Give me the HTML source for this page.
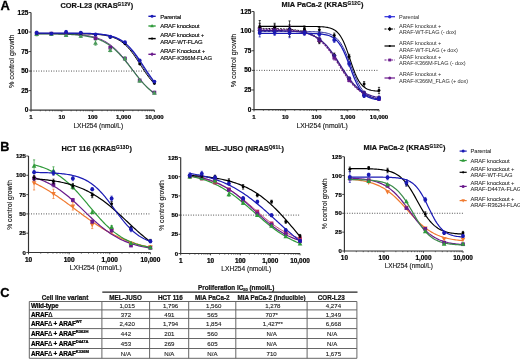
<!DOCTYPE html>
<html><head><meta charset="utf-8"><style>
html,body{margin:0;padding:0;background:#fff;width:520px;height:359px;overflow:hidden}
svg{display:block}
</style></head><body>
<svg width="520" height="359" viewBox="0 0 520 359" font-family='"Liberation Sans", Arial, sans-serif'>
<rect width="520" height="359" fill="#fff"/>
<text x="0.50" y="9.60" font-size="12.9" font-weight="bold" text-anchor="start" fill="#000" stroke="#000" stroke-width="0.3" >A</text>
<text x="0.30" y="151.00" font-size="12.7" font-weight="bold" text-anchor="start" fill="#000" stroke="#000" stroke-width="0.3" >B</text>
<text x="0.30" y="297.00" font-size="12.8" font-weight="bold" text-anchor="start" fill="#000" stroke="#000" stroke-width="0.3" >C</text>
<line x1="31.00" y1="71.06" x2="152.90" y2="71.06" stroke="#111" stroke-width="0.8" stroke-dasharray="0.9 1.6"/>
<polyline points="36.65,33.46 37.95,33.47 39.26,33.47 40.57,33.48 41.88,33.49 43.19,33.49 44.50,33.50 45.81,33.51 47.11,33.52 48.42,33.53 49.73,33.54 51.04,33.56 52.35,33.57 53.66,33.59 54.96,33.61 56.27,33.63 57.58,33.65 58.89,33.67 60.20,33.70 61.51,33.73 62.81,33.77 64.12,33.80 65.43,33.84 66.74,33.89 68.05,33.94 69.36,33.99 70.66,34.06 71.97,34.12 73.28,34.20 74.59,34.28 75.90,34.37 77.21,34.47 78.51,34.58 79.82,34.70 81.13,34.83 82.44,34.98 83.75,35.14 85.06,35.32 86.36,35.51 87.67,35.73 88.98,35.97 90.29,36.23 91.60,36.51 92.91,36.82 94.21,37.16 95.52,37.54 96.83,37.95 98.14,38.39 99.45,38.88 100.76,39.41 102.07,39.98 103.37,40.61 104.68,41.28 105.99,42.01 107.30,42.80 108.61,43.65 109.92,44.56 111.22,45.54 112.53,46.58 113.84,47.69 115.15,48.87 116.46,50.11 117.77,51.42 119.07,52.80 120.38,54.24 121.69,55.75 123.00,57.30 124.31,58.91 125.62,60.56 126.92,62.25 128.23,63.97 129.54,65.71 130.85,67.46 132.16,69.22 133.47,70.97 134.77,72.71 136.08,74.43 137.39,76.12 138.70,77.77 140.01,79.38 141.32,80.94 142.62,82.44 143.93,83.88 145.24,85.26 146.55,86.57 147.86,87.82 149.17,89.00 150.47,90.11 151.78,91.15 153.09,92.13 154.40,93.04" fill="none" stroke="#6a1a8c" stroke-width="1.0"/>
<polyline points="36.65,33.78 37.95,33.79 39.26,33.80 40.57,33.80 41.88,33.81 43.19,33.82 44.50,33.83 45.81,33.84 47.11,33.86 48.42,33.87 49.73,33.89 51.04,33.90 52.35,33.92 53.66,33.94 54.96,33.97 56.27,33.99 57.58,34.02 58.89,34.05 60.20,34.08 61.51,34.12 62.81,34.16 64.12,34.20 65.43,34.25 66.74,34.30 68.05,34.36 69.36,34.43 70.66,34.50 71.97,34.58 73.28,34.66 74.59,34.75 75.90,34.86 77.21,34.97 78.51,35.09 79.82,35.23 81.13,35.38 82.44,35.54 83.75,35.72 85.06,35.92 86.36,36.13 87.67,36.36 88.98,36.62 90.29,36.90 91.60,37.20 92.91,37.54 94.21,37.90 95.52,38.29 96.83,38.72 98.14,39.19 99.45,39.69 100.76,40.24 102.07,40.83 103.37,41.47 104.68,42.16 105.99,42.91 107.30,43.70 108.61,44.56 109.92,45.47 111.22,46.44 112.53,47.48 113.84,48.58 115.15,49.74 116.46,50.96 117.77,52.25 119.07,53.60 120.38,55.01 121.69,56.47 123.00,57.98 124.31,59.54 125.62,61.14 126.92,62.78 128.23,64.45 129.54,66.14 130.85,67.84 132.16,69.55 133.47,71.26 134.77,72.96 136.08,74.65 137.39,76.31 138.70,77.94 140.01,79.53 141.32,81.08 142.62,82.58 143.93,84.03 145.24,85.43 146.55,86.76 147.86,88.03 149.17,89.24 150.47,90.39 151.78,91.47 153.09,92.49 154.40,93.45" fill="none" stroke="#3d7a52" stroke-width="1.2"/>
<polyline points="36.65,33.64 37.95,33.64 39.26,33.64 40.57,33.64 41.88,33.64 43.19,33.64 44.50,33.64 45.81,33.64 47.11,33.64 48.42,33.64 49.73,33.64 51.04,33.65 52.35,33.65 53.66,33.65 54.96,33.65 56.27,33.65 57.58,33.65 58.89,33.66 60.20,33.66 61.51,33.66 62.81,33.66 64.12,33.67 65.43,33.67 66.74,33.68 68.05,33.68 69.36,33.69 70.66,33.69 71.97,33.70 73.28,33.71 74.59,33.72 75.90,33.73 77.21,33.75 78.51,33.76 79.82,33.78 81.13,33.80 82.44,33.82 83.75,33.85 85.06,33.88 86.36,33.91 87.67,33.95 88.98,33.99 90.29,34.04 91.60,34.10 92.91,34.16 94.21,34.23 95.52,34.32 96.83,34.41 98.14,34.52 99.45,34.64 100.76,34.78 102.07,34.94 103.37,35.11 104.68,35.32 105.99,35.55 107.30,35.80 108.61,36.10 109.92,36.43 111.22,36.80 112.53,37.22 113.84,37.69 115.15,38.22 116.46,38.81 117.77,39.46 119.07,40.20 120.38,41.01 121.69,41.91 123.00,42.90 124.31,43.98 125.62,45.17 126.92,46.45 128.23,47.85 129.54,49.34 130.85,50.93 132.16,52.62 133.47,54.40 134.77,56.25 136.08,58.18 137.39,60.16 138.70,62.17 140.01,64.21 141.32,66.25 142.62,68.28 143.93,70.28 145.24,72.24 146.55,74.13 147.86,75.95 149.17,77.68 150.47,79.32 151.78,80.86 153.09,82.31 154.40,83.64" fill="none" stroke="#000" stroke-width="1.0"/>
<polyline points="36.65,33.35 37.95,33.35 39.26,33.35 40.57,33.35 41.88,33.35 43.19,33.35 44.50,33.35 45.81,33.35 47.11,33.35 48.42,33.35 49.73,33.36 51.04,33.36 52.35,33.36 53.66,33.36 54.96,33.36 56.27,33.36 57.58,33.37 58.89,33.37 60.20,33.37 61.51,33.37 62.81,33.38 64.12,33.38 65.43,33.39 66.74,33.39 68.05,33.40 69.36,33.40 70.66,33.41 71.97,33.42 73.28,33.43 74.59,33.44 75.90,33.45 77.21,33.47 78.51,33.48 79.82,33.50 81.13,33.52 82.44,33.54 83.75,33.57 85.06,33.60 86.36,33.64 87.67,33.67 88.98,33.72 90.29,33.77 91.60,33.82 92.91,33.89 94.21,33.96 95.52,34.04 96.83,34.14 98.14,34.24 99.45,34.36 100.76,34.49 102.07,34.65 103.37,34.82 104.68,35.01 105.99,35.23 107.30,35.48 108.61,35.76 109.92,36.07 111.22,36.42 112.53,36.81 113.84,37.25 115.15,37.74 116.46,38.29 117.77,38.91 119.07,39.58 120.38,40.34 121.69,41.17 123.00,42.08 124.31,43.09 125.62,44.18 126.92,45.37 128.23,46.66 129.54,48.05 130.85,49.54 132.16,51.13 133.47,52.81 134.77,54.57 136.08,56.41 137.39,58.32 138.70,60.28 140.01,62.29 141.32,64.32 142.62,66.36 143.93,68.39 145.24,70.40 146.55,72.37 147.86,74.28 149.17,76.14 150.47,77.91 151.78,79.60 153.09,81.20 154.40,82.70" fill="none" stroke="#2a2a9a" stroke-width="1.0"/>
<polyline points="36.65,32.99 37.95,32.99 39.26,32.99 40.57,32.99 41.88,32.99 43.19,32.99 44.50,32.99 45.81,32.99 47.11,32.99 48.42,32.99 49.73,32.99 51.04,32.99 52.35,33.00 53.66,33.00 54.96,33.00 56.27,33.00 57.58,33.00 58.89,33.01 60.20,33.01 61.51,33.01 62.81,33.02 64.12,33.02 65.43,33.03 66.74,33.03 68.05,33.04 69.36,33.05 70.66,33.06 71.97,33.07 73.28,33.08 74.59,33.09 75.90,33.10 77.21,33.12 78.51,33.14 79.82,33.16 81.13,33.18 82.44,33.20 83.75,33.23 85.06,33.26 86.36,33.30 87.67,33.34 88.98,33.39 90.29,33.44 91.60,33.50 92.91,33.57 94.21,33.64 95.52,33.73 96.83,33.82 98.14,33.93 99.45,34.05 100.76,34.19 102.07,34.34 103.37,34.51 104.68,34.70 105.99,34.92 107.30,35.16 108.61,35.44 109.92,35.74 111.22,36.08 112.53,36.47 113.84,36.89 115.15,37.37 116.46,37.89 117.77,38.48 119.07,39.12 120.38,39.84 121.69,40.63 123.00,41.49 124.31,42.44 125.62,43.47 126.92,44.60 128.23,45.81 129.54,47.12 130.85,48.53 132.16,50.03 133.47,51.62 134.77,53.30 136.08,55.06 137.39,56.90 138.70,58.79 140.01,60.74 141.32,62.73 142.62,64.74 143.93,66.77 145.24,68.79 146.55,70.79 147.86,72.75 149.17,74.67 150.47,76.53 151.78,78.32 153.09,80.04 154.40,81.66" fill="none" stroke="#1a1ab4" stroke-width="1.2"/>
<rect x="34.79" y="31.73" width="3.70" height="3.70" fill="#6a1a8c"/>
<rect x="49.51" y="31.73" width="3.70" height="3.70" fill="#6a1a8c"/>
<rect x="64.23" y="31.73" width="3.70" height="3.70" fill="#6a1a8c"/>
<rect x="78.95" y="32.12" width="3.70" height="3.70" fill="#6a1a8c"/>
<rect x="93.67" y="36.41" width="3.70" height="3.70" fill="#6a1a8c"/>
<rect x="108.39" y="45.78" width="3.70" height="3.70" fill="#6a1a8c"/>
<rect x="123.11" y="56.71" width="3.70" height="3.70" fill="#6a1a8c"/>
<rect x="137.83" y="78.58" width="3.70" height="3.70" fill="#6a1a8c"/>
<rect x="152.55" y="90.68" width="3.70" height="3.70" fill="#6a1a8c"/>
<path d="M36.65,32.80V35.92M35.55,32.80h2.2M35.55,35.92h2.2" stroke="#4a9a5a" stroke-width="0.7" fill="none"/>
<polygon points="36.65,31.83 34.31,36.12 38.99,36.12" fill="#4a9a5a"/>
<path d="M51.37,33.58V35.14M50.27,33.58h2.2M50.27,35.14h2.2" stroke="#4a9a5a" stroke-width="0.7" fill="none"/>
<polygon points="51.37,31.83 49.03,36.12 53.71,36.12" fill="#4a9a5a"/>
<path d="M66.08,34.36V35.92M64.98,34.36h2.2M64.98,35.92h2.2" stroke="#4a9a5a" stroke-width="0.7" fill="none"/>
<polygon points="66.08,32.61 63.74,36.90 68.42,36.90" fill="#4a9a5a"/>
<path d="M80.80,34.36V37.49M79.70,34.36h2.2M79.70,37.49h2.2" stroke="#4a9a5a" stroke-width="0.7" fill="none"/>
<polygon points="80.80,33.39 78.46,37.68 83.14,37.68" fill="#4a9a5a"/>
<path d="M95.52,40.61V45.29M94.42,40.61h2.2M94.42,45.29h2.2" stroke="#4a9a5a" stroke-width="0.7" fill="none"/>
<polygon points="95.52,40.42 93.18,44.71 97.86,44.71" fill="#4a9a5a"/>
<path d="M110.24,48.65V51.77M109.14,48.65h2.2M109.14,51.77h2.2" stroke="#4a9a5a" stroke-width="0.7" fill="none"/>
<polygon points="110.24,47.68 107.90,51.97 112.58,51.97" fill="#4a9a5a"/>
<path d="M124.96,57.01V60.13M123.86,57.01h2.2M123.86,60.13h2.2" stroke="#4a9a5a" stroke-width="0.7" fill="none"/>
<polygon points="124.96,56.03 122.62,60.32 127.30,60.32" fill="#4a9a5a"/>
<path d="M139.68,79.10V82.23M138.58,79.10h2.2M138.58,82.23h2.2" stroke="#4a9a5a" stroke-width="0.7" fill="none"/>
<polygon points="139.68,78.13 137.34,82.42 142.02,82.42" fill="#4a9a5a"/>
<path d="M154.40,92.14V93.70M153.30,92.14h2.2M153.30,93.70h2.2" stroke="#4a9a5a" stroke-width="0.7" fill="none"/>
<polygon points="154.40,90.39 152.06,94.68 156.74,94.68" fill="#4a9a5a"/>
<circle cx="36.65" cy="33.58" r="1.46" fill="#000"/>
<circle cx="51.37" cy="33.58" r="1.46" fill="#000"/>
<circle cx="66.08" cy="32.80" r="1.46" fill="#000"/>
<circle cx="80.80" cy="33.58" r="1.46" fill="#000"/>
<circle cx="95.52" cy="35.14" r="1.46" fill="#000"/>
<circle cx="110.24" cy="37.49" r="1.46" fill="#000"/>
<circle cx="124.96" cy="43.73" r="1.46" fill="#000"/>
<circle cx="139.68" cy="64.03" r="1.46" fill="#000"/>
<circle cx="154.40" cy="83.55" r="1.46" fill="#000"/>
<path d="M36.65,31.24V34.36M35.55,31.24h2.2M35.55,34.36h2.2" stroke="#1a1ab4" stroke-width="0.7" fill="none"/>
<circle cx="36.65" cy="32.80" r="1.95" fill="#1a1ab4"/>
<path d="M51.37,32.80V34.36M50.27,32.80h2.2M50.27,34.36h2.2" stroke="#1a1ab4" stroke-width="0.7" fill="none"/>
<circle cx="51.37" cy="33.58" r="1.95" fill="#1a1ab4"/>
<path d="M66.08,30.46V33.58M64.98,30.46h2.2M64.98,33.58h2.2" stroke="#1a1ab4" stroke-width="0.7" fill="none"/>
<circle cx="66.08" cy="32.02" r="1.95" fill="#1a1ab4"/>
<path d="M80.80,32.02V33.58M79.70,32.02h2.2M79.70,33.58h2.2" stroke="#1a1ab4" stroke-width="0.7" fill="none"/>
<circle cx="80.80" cy="32.80" r="1.95" fill="#1a1ab4"/>
<path d="M95.52,33.58V35.14M94.42,33.58h2.2M94.42,35.14h2.2" stroke="#1a1ab4" stroke-width="0.7" fill="none"/>
<circle cx="95.52" cy="34.36" r="1.95" fill="#1a1ab4"/>
<path d="M110.24,35.92V37.49M109.14,35.92h2.2M109.14,37.49h2.2" stroke="#1a1ab4" stroke-width="0.7" fill="none"/>
<circle cx="110.24" cy="36.70" r="1.95" fill="#1a1ab4"/>
<path d="M124.96,41.39V42.95M123.86,41.39h2.2M123.86,42.95h2.2" stroke="#1a1ab4" stroke-width="0.7" fill="none"/>
<circle cx="124.96" cy="42.17" r="1.95" fill="#1a1ab4"/>
<path d="M139.68,59.74V61.30M138.58,59.74h2.2M138.58,61.30h2.2" stroke="#1a1ab4" stroke-width="0.7" fill="none"/>
<circle cx="139.68" cy="60.52" r="1.95" fill="#1a1ab4"/>
<path d="M154.40,80.82V82.38M153.30,80.82h2.2M153.30,82.38h2.2" stroke="#1a1ab4" stroke-width="0.7" fill="none"/>
<circle cx="154.40" cy="81.60" r="1.95" fill="#1a1ab4"/>
<path d="M31.00,12.50V110.10H154.40" stroke="#333" stroke-width="1.15" fill="none"/>
<line x1="28.80" y1="110.10" x2="31.00" y2="110.10" stroke="#333" stroke-width="0.9"/>
<text x="28.40" y="112.20" font-size="6.5" font-weight="bold" text-anchor="end" fill="#000" stroke="#000" stroke-width="0.22" >0</text>
<line x1="28.80" y1="90.58" x2="31.00" y2="90.58" stroke="#333" stroke-width="0.9"/>
<text x="28.40" y="92.68" font-size="6.5" font-weight="bold" text-anchor="end" fill="#000" stroke="#000" stroke-width="0.22" >25</text>
<line x1="28.80" y1="71.06" x2="31.00" y2="71.06" stroke="#333" stroke-width="0.9"/>
<text x="28.40" y="73.16" font-size="6.5" font-weight="bold" text-anchor="end" fill="#000" stroke="#000" stroke-width="0.22" >50</text>
<line x1="28.80" y1="51.54" x2="31.00" y2="51.54" stroke="#333" stroke-width="0.9"/>
<text x="28.40" y="53.64" font-size="6.5" font-weight="bold" text-anchor="end" fill="#000" stroke="#000" stroke-width="0.22" >75</text>
<line x1="28.80" y1="32.02" x2="31.00" y2="32.02" stroke="#333" stroke-width="0.9"/>
<text x="28.40" y="34.12" font-size="6.5" font-weight="bold" text-anchor="end" fill="#000" stroke="#000" stroke-width="0.22" >100</text>
<line x1="28.80" y1="12.50" x2="31.00" y2="12.50" stroke="#333" stroke-width="0.9"/>
<text x="28.40" y="14.60" font-size="6.5" font-weight="bold" text-anchor="end" fill="#000" stroke="#000" stroke-width="0.22" >125</text>
<line x1="31.00" y1="110.10" x2="31.00" y2="111.90" stroke="#333" stroke-width="0.9"/>
<text x="31.00" y="119.00" font-size="6.0" font-weight="bold" text-anchor="middle" fill="#000" stroke="#000" stroke-width="0.22" >1</text>
<line x1="40.29" y1="110.10" x2="40.29" y2="111.30" stroke="#333" stroke-width="0.7"/>
<line x1="45.72" y1="110.10" x2="45.72" y2="111.30" stroke="#333" stroke-width="0.7"/>
<line x1="49.57" y1="110.10" x2="49.57" y2="111.30" stroke="#333" stroke-width="0.7"/>
<line x1="52.56" y1="110.10" x2="52.56" y2="111.30" stroke="#333" stroke-width="0.7"/>
<line x1="55.01" y1="110.10" x2="55.01" y2="111.30" stroke="#333" stroke-width="0.7"/>
<line x1="57.07" y1="110.10" x2="57.07" y2="111.30" stroke="#333" stroke-width="0.7"/>
<line x1="58.86" y1="110.10" x2="58.86" y2="111.30" stroke="#333" stroke-width="0.7"/>
<line x1="60.44" y1="110.10" x2="60.44" y2="111.30" stroke="#333" stroke-width="0.7"/>
<line x1="61.85" y1="110.10" x2="61.85" y2="111.90" stroke="#333" stroke-width="0.9"/>
<text x="61.85" y="119.00" font-size="6.0" font-weight="bold" text-anchor="middle" fill="#000" stroke="#000" stroke-width="0.22" >10</text>
<line x1="71.14" y1="110.10" x2="71.14" y2="111.30" stroke="#333" stroke-width="0.7"/>
<line x1="76.57" y1="110.10" x2="76.57" y2="111.30" stroke="#333" stroke-width="0.7"/>
<line x1="80.42" y1="110.10" x2="80.42" y2="111.30" stroke="#333" stroke-width="0.7"/>
<line x1="83.41" y1="110.10" x2="83.41" y2="111.30" stroke="#333" stroke-width="0.7"/>
<line x1="85.86" y1="110.10" x2="85.86" y2="111.30" stroke="#333" stroke-width="0.7"/>
<line x1="87.92" y1="110.10" x2="87.92" y2="111.30" stroke="#333" stroke-width="0.7"/>
<line x1="89.71" y1="110.10" x2="89.71" y2="111.30" stroke="#333" stroke-width="0.7"/>
<line x1="91.29" y1="110.10" x2="91.29" y2="111.30" stroke="#333" stroke-width="0.7"/>
<line x1="92.70" y1="110.10" x2="92.70" y2="111.90" stroke="#333" stroke-width="0.9"/>
<text x="92.70" y="119.00" font-size="6.0" font-weight="bold" text-anchor="middle" fill="#000" stroke="#000" stroke-width="0.22" >100</text>
<line x1="101.99" y1="110.10" x2="101.99" y2="111.30" stroke="#333" stroke-width="0.7"/>
<line x1="107.42" y1="110.10" x2="107.42" y2="111.30" stroke="#333" stroke-width="0.7"/>
<line x1="111.27" y1="110.10" x2="111.27" y2="111.30" stroke="#333" stroke-width="0.7"/>
<line x1="114.26" y1="110.10" x2="114.26" y2="111.30" stroke="#333" stroke-width="0.7"/>
<line x1="116.71" y1="110.10" x2="116.71" y2="111.30" stroke="#333" stroke-width="0.7"/>
<line x1="118.77" y1="110.10" x2="118.77" y2="111.30" stroke="#333" stroke-width="0.7"/>
<line x1="120.56" y1="110.10" x2="120.56" y2="111.30" stroke="#333" stroke-width="0.7"/>
<line x1="122.14" y1="110.10" x2="122.14" y2="111.30" stroke="#333" stroke-width="0.7"/>
<line x1="123.55" y1="110.10" x2="123.55" y2="111.90" stroke="#333" stroke-width="0.9"/>
<text x="123.55" y="119.00" font-size="6.0" font-weight="bold" text-anchor="middle" fill="#000" stroke="#000" stroke-width="0.22" >1,000</text>
<line x1="132.84" y1="110.10" x2="132.84" y2="111.30" stroke="#333" stroke-width="0.7"/>
<line x1="138.27" y1="110.10" x2="138.27" y2="111.30" stroke="#333" stroke-width="0.7"/>
<line x1="142.12" y1="110.10" x2="142.12" y2="111.30" stroke="#333" stroke-width="0.7"/>
<line x1="145.11" y1="110.10" x2="145.11" y2="111.30" stroke="#333" stroke-width="0.7"/>
<line x1="147.56" y1="110.10" x2="147.56" y2="111.30" stroke="#333" stroke-width="0.7"/>
<line x1="149.62" y1="110.10" x2="149.62" y2="111.30" stroke="#333" stroke-width="0.7"/>
<line x1="151.41" y1="110.10" x2="151.41" y2="111.30" stroke="#333" stroke-width="0.7"/>
<line x1="152.99" y1="110.10" x2="152.99" y2="111.30" stroke="#333" stroke-width="0.7"/>
<line x1="154.40" y1="110.10" x2="154.40" y2="111.90" stroke="#333" stroke-width="0.9"/>
<text x="154.40" y="119.00" font-size="6.0" font-weight="bold" text-anchor="middle" fill="#000" stroke="#000" stroke-width="0.22" >10,000</text>
<text x="98.30" y="127.60" font-size="6.6" text-anchor="middle" fill="#111" stroke="#111" stroke-width="0.12" >LXH254 (nmol/L)</text>
<text transform="translate(13.60,61.30) rotate(-90)" font-size="7.2" text-anchor="middle" fill="#111" stroke="#111" stroke-width="0.12">% control growth</text>
<text x="60.50" y="8.30" font-size="7.4" font-weight="bold" fill="#111" stroke="#111" stroke-width="0.2">COR-L23 (KRAS<tspan font-size="4.7" dy="-1.9" letter-spacing="0.3">G12V</tspan><tspan dy="1.9">)</tspan></text>
<line x1="254.00" y1="70.36" x2="379.00" y2="70.36" stroke="#111" stroke-width="0.8" stroke-dasharray="0.9 1.6"/>
<polyline points="259.72,28.42 261.05,28.43 262.37,28.44 263.70,28.45 265.02,28.46 266.35,28.48 267.67,28.49 269.00,28.51 270.32,28.53 271.65,28.55 272.97,28.58 274.30,28.61 275.62,28.64 276.95,28.68 278.27,28.72 279.60,28.76 280.93,28.81 282.25,28.87 283.58,28.93 284.90,29.00 286.23,29.08 287.55,29.17 288.88,29.26 290.20,29.37 291.53,29.50 292.85,29.63 294.18,29.79 295.50,29.96 296.83,30.15 298.15,30.36 299.48,30.59 300.81,30.86 302.13,31.15 303.46,31.47 304.78,31.83 306.11,32.23 307.43,32.68 308.76,33.16 310.08,33.70 311.41,34.30 312.73,34.95 314.06,35.67 315.38,36.46 316.71,37.32 318.03,38.26 319.36,39.28 320.69,40.38 322.01,41.57 323.34,42.86 324.66,44.23 325.99,45.69 327.31,47.25 328.64,48.89 329.96,50.62 331.29,52.43 332.61,54.31 333.94,56.25 335.26,58.25 336.59,60.29 337.91,62.36 339.24,64.44 340.57,66.53 341.89,68.61 343.22,70.67 344.54,72.69 345.87,74.66 347.19,76.58 348.52,78.42 349.84,80.20 351.17,81.89 352.49,83.49 353.82,85.00 355.14,86.42 356.47,87.76 357.79,89.00 359.12,90.15 360.45,91.21 361.77,92.19 363.10,93.09 364.42,93.92 365.75,94.67 367.07,95.36 368.40,95.99 369.72,96.56 371.05,97.07 372.37,97.54 373.70,97.96 375.02,98.34 376.35,98.68 377.67,98.99 379.00,99.27" fill="none" stroke="#000" stroke-width="1.0" stroke-dasharray="1.8 1.1"/>
<polyline points="259.72,29.22 261.05,29.23 262.37,29.24 263.70,29.25 265.02,29.26 266.35,29.27 267.67,29.29 269.00,29.30 270.32,29.32 271.65,29.34 272.97,29.37 274.30,29.39 275.62,29.42 276.95,29.45 278.27,29.49 279.60,29.53 280.93,29.58 282.25,29.63 283.58,29.69 284.90,29.75 286.23,29.83 287.55,29.91 288.88,30.00 290.20,30.11 291.53,30.22 292.85,30.35 294.18,30.50 295.50,30.66 296.83,30.84 298.15,31.05 299.48,31.27 300.81,31.53 302.13,31.81 303.46,32.13 304.78,32.48 306.11,32.87 307.43,33.31 308.76,33.79 310.08,34.33 311.41,34.92 312.73,35.57 314.06,36.29 315.38,37.08 316.71,37.94 318.03,38.88 319.36,39.91 320.69,41.03 322.01,42.23 323.34,43.53 324.66,44.93 325.99,46.42 327.31,48.00 328.64,49.68 329.96,51.43 331.29,53.27 332.61,55.19 333.94,57.16 335.26,59.19 336.59,61.25 337.91,63.34 339.24,65.44 340.57,67.54 341.89,69.63 343.22,71.68 344.54,73.69 345.87,75.64 347.19,77.53 348.52,79.34 349.84,81.07 351.17,82.71 352.49,84.26 353.82,85.71 355.14,87.07 356.47,88.34 357.79,89.51 359.12,90.60 360.45,91.59 361.77,92.51 363.10,93.34 364.42,94.11 365.75,94.80 367.07,95.43 368.40,96.00 369.72,96.51 371.05,96.98 372.37,97.40 373.70,97.78 375.02,98.11 376.35,98.42 377.67,98.69 379.00,98.94" fill="none" stroke="#6a1a8c" stroke-width="1.2" stroke-dasharray="2 1"/>
<polyline points="259.72,26.41 261.05,26.41 262.37,26.41 263.70,26.41 265.02,26.41 266.35,26.41 267.67,26.41 269.00,26.41 270.32,26.41 271.65,26.41 272.97,26.41 274.30,26.41 275.62,26.41 276.95,26.41 278.27,26.41 279.60,26.41 280.93,26.41 282.25,26.41 283.58,26.41 284.90,26.41 286.23,26.41 287.55,26.41 288.88,26.41 290.20,26.41 291.53,26.41 292.85,26.41 294.18,26.41 295.50,26.41 296.83,26.41 298.15,26.42 299.48,26.42 300.81,26.42 302.13,26.42 303.46,26.42 304.78,26.43 306.11,26.43 307.43,26.44 308.76,26.44 310.08,26.45 311.41,26.47 312.73,26.48 314.06,26.50 315.38,26.52 316.71,26.55 318.03,26.59 319.36,26.64 320.69,26.71 322.01,26.79 323.34,26.89 324.66,27.02 325.99,27.19 327.31,27.40 328.64,27.67 329.96,28.01 331.29,28.44 332.61,28.98 333.94,29.66 335.26,30.50 336.59,31.54 337.91,32.82 339.24,34.38 340.57,36.25 341.89,38.47 343.22,41.05 344.54,44.01 345.87,47.31 347.19,50.92 348.52,54.74 349.84,58.70 351.17,62.66 352.49,66.51 353.82,70.15 355.14,73.50 356.47,76.51 357.79,79.15 359.12,81.42 360.45,83.33 361.77,84.93 363.10,86.25 364.42,87.32 365.75,88.19 367.07,88.89 368.40,89.45 369.72,89.89 371.05,90.24 372.37,90.52 373.70,90.74 375.02,90.91 376.35,91.05 377.67,91.16 379.00,91.24" fill="none" stroke="#000" stroke-width="1.1"/>
<polyline points="259.72,31.51 261.05,31.51 262.37,31.51 263.70,31.51 265.02,31.51 266.35,31.51 267.67,31.51 269.00,31.51 270.32,31.51 271.65,31.51 272.97,31.51 274.30,31.51 275.62,31.51 276.95,31.51 278.27,31.51 279.60,31.51 280.93,31.51 282.25,31.51 283.58,31.51 284.90,31.51 286.23,31.52 287.55,31.52 288.88,31.52 290.20,31.52 291.53,31.52 292.85,31.52 294.18,31.52 295.50,31.53 296.83,31.53 298.15,31.53 299.48,31.54 300.81,31.54 302.13,31.55 303.46,31.56 304.78,31.57 306.11,31.58 307.43,31.59 308.76,31.61 310.08,31.64 311.41,31.66 312.73,31.70 314.06,31.74 315.38,31.79 316.71,31.86 318.03,31.93 319.36,32.03 320.69,32.15 322.01,32.29 323.34,32.46 324.66,32.67 325.99,32.93 327.31,33.25 328.64,33.63 329.96,34.10 331.29,34.66 332.61,35.33 333.94,36.14 335.26,37.11 336.59,38.26 337.91,39.61 339.24,41.19 340.57,43.03 341.89,45.13 343.22,47.50 344.54,50.14 345.87,53.05 347.19,56.18 348.52,59.49 349.84,62.93 351.17,66.42 352.49,69.90 353.82,73.29 355.14,76.53 356.47,79.57 357.79,82.36 359.12,84.89 360.45,87.14 361.77,89.12 363.10,90.84 364.42,92.32 365.75,93.57 367.07,94.64 368.40,95.54 369.72,96.28 371.05,96.91 372.37,97.42 373.70,97.85 375.02,98.20 376.35,98.49 377.67,98.73 379.00,98.92" fill="none" stroke="#2a2a9a" stroke-width="1.0"/>
<polyline points="259.72,30.38 261.05,30.38 262.37,30.39 263.70,30.39 265.02,30.40 266.35,30.41 267.67,30.42 269.00,30.43 270.32,30.45 271.65,30.46 272.97,30.48 274.30,30.49 275.62,30.51 276.95,30.54 278.27,30.56 279.60,30.59 280.93,30.63 282.25,30.66 283.58,30.71 284.90,30.75 286.23,30.81 287.55,30.87 288.88,30.94 290.20,31.02 291.53,31.10 292.85,31.20 294.18,31.31 295.50,31.44 296.83,31.58 298.15,31.74 299.48,31.91 300.81,32.11 302.13,32.34 303.46,32.59 304.78,32.87 306.11,33.19 307.43,33.54 308.76,33.94 310.08,34.38 311.41,34.87 312.73,35.41 314.06,36.01 315.38,36.68 316.71,37.42 318.03,38.24 319.36,39.13 320.69,40.12 322.01,41.19 323.34,42.35 324.66,43.61 325.99,44.97 327.31,46.42 328.64,47.98 329.96,49.63 331.29,51.37 332.61,53.20 333.94,55.10 335.26,57.07 336.59,59.10 337.91,61.17 339.24,63.26 340.57,65.37 341.89,67.47 343.22,69.55 344.54,71.60 345.87,73.60 347.19,75.54 348.52,77.41 349.84,79.20 351.17,80.90 352.49,82.51 353.82,84.01 355.14,85.42 356.47,86.74 357.79,87.95 359.12,89.07 360.45,90.10 361.77,91.03 363.10,91.89 364.42,92.67 365.75,93.38 367.07,94.01 368.40,94.59 369.72,95.11 371.05,95.57 372.37,95.99 373.70,96.37 375.02,96.70 376.35,97.00 377.67,97.27 379.00,97.50" fill="none" stroke="#3a1a8a" stroke-width="1.1"/>
<polyline points="259.72,33.38 261.05,33.38 262.37,33.38 263.70,33.38 265.02,33.38 266.35,33.38 267.67,33.38 269.00,33.38 270.32,33.38 271.65,33.38 272.97,33.38 274.30,33.38 275.62,33.38 276.95,33.38 278.27,33.38 279.60,33.38 280.93,33.38 282.25,33.38 283.58,33.38 284.90,33.38 286.23,33.38 287.55,33.38 288.88,33.38 290.20,33.38 291.53,33.39 292.85,33.39 294.18,33.39 295.50,33.39 296.83,33.39 298.15,33.40 299.48,33.40 300.81,33.40 302.13,33.41 303.46,33.42 304.78,33.43 306.11,33.44 307.43,33.45 308.76,33.47 310.08,33.49 311.41,33.52 312.73,33.55 314.06,33.59 315.38,33.64 316.71,33.70 318.03,33.78 319.36,33.87 320.69,33.99 322.01,34.13 323.34,34.30 324.66,34.52 325.99,34.78 327.31,35.11 328.64,35.50 329.96,35.99 331.29,36.57 332.61,37.29 333.94,38.15 335.26,39.18 336.59,40.41 337.91,41.86 339.24,43.56 340.57,45.53 341.89,47.79 343.22,50.34 344.54,53.17 345.87,56.26 347.19,59.56 348.52,63.02 349.84,66.57 351.17,70.12 352.49,73.60 353.82,76.94 355.14,80.07 356.47,82.95 357.79,85.55 359.12,87.87 360.45,89.90 361.77,91.65 363.10,93.15 364.42,94.42 365.75,95.48 367.07,96.37 368.40,97.11 369.72,97.72 371.05,98.22 372.37,98.63 373.70,98.97 375.02,99.25 376.35,99.47 377.67,99.65 379.00,99.80" fill="none" stroke="#1a1ab4" stroke-width="1.3"/>
<path d="M259.72,23.27V32.69M258.62,23.27h2.2M258.62,32.69h2.2" stroke="#000" stroke-width="0.7" fill="none"/>
<polygon points="259.72,25.45 257.57,27.98 259.72,30.52 261.86,27.98" fill="#000"/>
<path d="M274.63,24.84V32.69M273.53,24.84h2.2M273.53,32.69h2.2" stroke="#000" stroke-width="0.7" fill="none"/>
<polygon points="274.63,26.23 272.48,28.77 274.63,31.30 276.77,28.77" fill="#000"/>
<path d="M289.54,24.84V34.26M288.44,24.84h2.2M288.44,34.26h2.2" stroke="#000" stroke-width="0.7" fill="none"/>
<polygon points="289.54,27.02 287.39,29.55 289.54,32.09 291.68,29.55" fill="#000"/>
<path d="M304.45,27.59V33.87M303.35,27.59h2.2M303.35,33.87h2.2" stroke="#000" stroke-width="0.7" fill="none"/>
<polygon points="304.45,28.19 302.30,30.73 304.45,33.26 306.59,30.73" fill="#000"/>
<path d="M319.36,38.97V43.68M318.26,38.97h2.2M318.26,43.68h2.2" stroke="#000" stroke-width="0.7" fill="none"/>
<polygon points="319.36,38.79 317.21,41.32 319.36,43.86 321.50,41.32" fill="#000"/>
<path d="M334.27,53.09V57.80M333.17,53.09h2.2M333.17,57.80h2.2" stroke="#000" stroke-width="0.7" fill="none"/>
<polygon points="334.27,52.91 332.12,55.45 334.27,57.98 336.41,55.45" fill="#000"/>
<path d="M349.18,77.66V80.80M348.08,77.66h2.2M348.08,80.80h2.2" stroke="#000" stroke-width="0.7" fill="none"/>
<polygon points="349.18,76.69 347.03,79.23 349.18,81.76 351.32,79.23" fill="#000"/>
<path d="M364.09,93.75V96.89M362.99,93.75h2.2M362.99,96.89h2.2" stroke="#000" stroke-width="0.7" fill="none"/>
<polygon points="364.09,92.78 361.94,95.32 364.09,97.85 366.23,95.32" fill="#000"/>
<path d="M379.00,96.57V99.71M377.90,96.57h2.2M377.90,99.71h2.2" stroke="#000" stroke-width="0.7" fill="none"/>
<polygon points="379.00,95.61 376.86,98.14 379.00,100.68 381.14,98.14" fill="#000"/>
<path d="M259.72,25.30V33.15M258.62,25.30h2.2M258.62,33.15h2.2" stroke="#6a1a8c" stroke-width="0.7" fill="none"/>
<rect x="257.87" y="27.37" width="3.70" height="3.70" fill="#6a1a8c"/>
<path d="M274.63,26.26V32.54M273.53,26.26h2.2M273.53,32.54h2.2" stroke="#6a1a8c" stroke-width="0.7" fill="none"/>
<rect x="272.78" y="27.55" width="3.70" height="3.70" fill="#6a1a8c"/>
<path d="M289.54,26.13V33.98M288.44,26.13h2.2M288.44,33.98h2.2" stroke="#6a1a8c" stroke-width="0.7" fill="none"/>
<rect x="287.69" y="28.20" width="3.70" height="3.70" fill="#6a1a8c"/>
<path d="M304.45,30.04V34.74M303.35,30.04h2.2M303.35,34.74h2.2" stroke="#6a1a8c" stroke-width="0.7" fill="none"/>
<rect x="302.60" y="30.54" width="3.70" height="3.70" fill="#6a1a8c"/>
<path d="M319.36,37.56V42.27M318.26,37.56h2.2M318.26,42.27h2.2" stroke="#6a1a8c" stroke-width="0.7" fill="none"/>
<rect x="317.51" y="38.06" width="3.70" height="3.70" fill="#6a1a8c"/>
<path d="M334.27,55.31V60.02M333.17,55.31h2.2M333.17,60.02h2.2" stroke="#6a1a8c" stroke-width="0.7" fill="none"/>
<rect x="332.42" y="55.81" width="3.70" height="3.70" fill="#6a1a8c"/>
<path d="M349.18,78.64V81.78M348.08,78.64h2.2M348.08,81.78h2.2" stroke="#6a1a8c" stroke-width="0.7" fill="none"/>
<rect x="347.33" y="78.36" width="3.70" height="3.70" fill="#6a1a8c"/>
<path d="M364.09,92.35V95.49M362.99,92.35h2.2M362.99,95.49h2.2" stroke="#6a1a8c" stroke-width="0.7" fill="none"/>
<rect x="362.24" y="92.07" width="3.70" height="3.70" fill="#6a1a8c"/>
<path d="M379.00,97.37V100.51M377.90,97.37h2.2M377.90,100.51h2.2" stroke="#6a1a8c" stroke-width="0.7" fill="none"/>
<rect x="377.15" y="97.08" width="3.70" height="3.70" fill="#6a1a8c"/>
<path d="M259.72,20.53V33.08M258.62,20.53h2.2M258.62,33.08h2.2" stroke="#000" stroke-width="0.7" fill="none"/>
<circle cx="259.72" cy="26.80" r="1.46" fill="#000"/>
<path d="M274.63,23.27V31.12M273.53,23.27h2.2M273.53,31.12h2.2" stroke="#000" stroke-width="0.7" fill="none"/>
<circle cx="274.63" cy="27.20" r="1.46" fill="#000"/>
<path d="M289.54,20.92V36.61M288.44,20.92h2.2M288.44,36.61h2.2" stroke="#000" stroke-width="0.7" fill="none"/>
<circle cx="289.54" cy="28.77" r="1.46" fill="#000"/>
<path d="M304.45,25.86V32.14M303.35,25.86h2.2M303.35,32.14h2.2" stroke="#000" stroke-width="0.7" fill="none"/>
<circle cx="304.45" cy="29.00" r="1.46" fill="#000"/>
<path d="M319.36,27.51V32.22M318.26,27.51h2.2M318.26,32.22h2.2" stroke="#000" stroke-width="0.7" fill="none"/>
<circle cx="319.36" cy="29.86" r="1.46" fill="#000"/>
<path d="M334.27,33.08V37.79M333.17,33.08h2.2M333.17,37.79h2.2" stroke="#000" stroke-width="0.7" fill="none"/>
<circle cx="334.27" cy="35.44" r="1.46" fill="#000"/>
<path d="M349.18,54.35V59.06M348.08,54.35h2.2M348.08,59.06h2.2" stroke="#000" stroke-width="0.7" fill="none"/>
<circle cx="349.18" cy="56.70" r="1.46" fill="#000"/>
<path d="M364.09,81.58V86.29M362.99,81.58h2.2M362.99,86.29h2.2" stroke="#000" stroke-width="0.7" fill="none"/>
<circle cx="364.09" cy="83.94" r="1.46" fill="#000"/>
<path d="M379.00,87.39V93.67M377.90,87.39h2.2M377.90,93.67h2.2" stroke="#000" stroke-width="0.7" fill="none"/>
<circle cx="379.00" cy="90.53" r="1.46" fill="#000"/>
<circle cx="259.72" cy="30.38" r="1.95" fill="#3a1a8a"/>
<circle cx="274.63" cy="30.50" r="1.95" fill="#3a1a8a"/>
<circle cx="289.54" cy="30.98" r="1.95" fill="#3a1a8a"/>
<circle cx="304.45" cy="32.80" r="1.95" fill="#3a1a8a"/>
<circle cx="319.36" cy="39.13" r="1.95" fill="#3a1a8a"/>
<circle cx="334.27" cy="55.59" r="1.95" fill="#3a1a8a"/>
<circle cx="349.18" cy="78.32" r="1.95" fill="#3a1a8a"/>
<circle cx="364.09" cy="92.48" r="1.95" fill="#3a1a8a"/>
<circle cx="379.00" cy="97.50" r="1.95" fill="#3a1a8a"/>
<path d="M259.72,29.08V36.93M258.62,29.08h2.2M258.62,36.93h2.2" stroke="#1a1ab4" stroke-width="0.7" fill="none"/>
<circle cx="259.72" cy="33.00" r="1.95" fill="#1a1ab4"/>
<path d="M274.63,30.65V35.36M273.53,30.65h2.2M273.53,35.36h2.2" stroke="#1a1ab4" stroke-width="0.7" fill="none"/>
<circle cx="274.63" cy="33.00" r="1.95" fill="#1a1ab4"/>
<path d="M289.54,28.29V37.71M288.44,28.29h2.2M288.44,37.71h2.2" stroke="#1a1ab4" stroke-width="0.7" fill="none"/>
<circle cx="289.54" cy="33.00" r="1.95" fill="#1a1ab4"/>
<path d="M304.45,30.65V35.36M303.35,30.65h2.2M303.35,35.36h2.2" stroke="#1a1ab4" stroke-width="0.7" fill="none"/>
<circle cx="304.45" cy="33.00" r="1.95" fill="#1a1ab4"/>
<path d="M319.36,31.90V36.61M318.26,31.90h2.2M318.26,36.61h2.2" stroke="#1a1ab4" stroke-width="0.7" fill="none"/>
<circle cx="319.36" cy="34.26" r="1.95" fill="#1a1ab4"/>
<path d="M334.27,37.71V42.42M333.17,37.71h2.2M333.17,42.42h2.2" stroke="#1a1ab4" stroke-width="0.7" fill="none"/>
<circle cx="334.27" cy="40.07" r="1.95" fill="#1a1ab4"/>
<path d="M349.18,61.41V66.12M348.08,61.41h2.2M348.08,66.12h2.2" stroke="#1a1ab4" stroke-width="0.7" fill="none"/>
<circle cx="349.18" cy="63.77" r="1.95" fill="#1a1ab4"/>
<path d="M364.09,94.22V97.36M362.99,94.22h2.2M362.99,97.36h2.2" stroke="#1a1ab4" stroke-width="0.7" fill="none"/>
<circle cx="364.09" cy="95.79" r="1.95" fill="#1a1ab4"/>
<path d="M379.00,97.04V100.18M377.90,97.04h2.2M377.90,100.18h2.2" stroke="#1a1ab4" stroke-width="0.7" fill="none"/>
<circle cx="379.00" cy="98.61" r="1.95" fill="#1a1ab4"/>
<path d="M254.00,11.50V109.60H379.00" stroke="#333" stroke-width="1.15" fill="none"/>
<line x1="251.80" y1="109.60" x2="254.00" y2="109.60" stroke="#333" stroke-width="0.9"/>
<text x="251.40" y="111.70" font-size="6.5" font-weight="bold" text-anchor="end" fill="#000" stroke="#000" stroke-width="0.22" >0</text>
<line x1="251.80" y1="89.98" x2="254.00" y2="89.98" stroke="#333" stroke-width="0.9"/>
<text x="251.40" y="92.08" font-size="6.5" font-weight="bold" text-anchor="end" fill="#000" stroke="#000" stroke-width="0.22" >25</text>
<line x1="251.80" y1="70.36" x2="254.00" y2="70.36" stroke="#333" stroke-width="0.9"/>
<text x="251.40" y="72.46" font-size="6.5" font-weight="bold" text-anchor="end" fill="#000" stroke="#000" stroke-width="0.22" >50</text>
<line x1="251.80" y1="50.74" x2="254.00" y2="50.74" stroke="#333" stroke-width="0.9"/>
<text x="251.40" y="52.84" font-size="6.5" font-weight="bold" text-anchor="end" fill="#000" stroke="#000" stroke-width="0.22" >75</text>
<line x1="251.80" y1="31.12" x2="254.00" y2="31.12" stroke="#333" stroke-width="0.9"/>
<text x="251.40" y="33.22" font-size="6.5" font-weight="bold" text-anchor="end" fill="#000" stroke="#000" stroke-width="0.22" >100</text>
<line x1="251.80" y1="11.50" x2="254.00" y2="11.50" stroke="#333" stroke-width="0.9"/>
<text x="251.40" y="13.60" font-size="6.5" font-weight="bold" text-anchor="end" fill="#000" stroke="#000" stroke-width="0.22" >125</text>
<line x1="254.00" y1="109.60" x2="254.00" y2="111.40" stroke="#333" stroke-width="0.9"/>
<text x="254.00" y="119.20" font-size="6.0" font-weight="bold" text-anchor="middle" fill="#000" stroke="#000" stroke-width="0.22" >1</text>
<line x1="263.41" y1="109.60" x2="263.41" y2="110.80" stroke="#333" stroke-width="0.7"/>
<line x1="268.91" y1="109.60" x2="268.91" y2="110.80" stroke="#333" stroke-width="0.7"/>
<line x1="272.81" y1="109.60" x2="272.81" y2="110.80" stroke="#333" stroke-width="0.7"/>
<line x1="275.84" y1="109.60" x2="275.84" y2="110.80" stroke="#333" stroke-width="0.7"/>
<line x1="278.32" y1="109.60" x2="278.32" y2="110.80" stroke="#333" stroke-width="0.7"/>
<line x1="280.41" y1="109.60" x2="280.41" y2="110.80" stroke="#333" stroke-width="0.7"/>
<line x1="282.22" y1="109.60" x2="282.22" y2="110.80" stroke="#333" stroke-width="0.7"/>
<line x1="283.82" y1="109.60" x2="283.82" y2="110.80" stroke="#333" stroke-width="0.7"/>
<line x1="285.25" y1="109.60" x2="285.25" y2="111.40" stroke="#333" stroke-width="0.9"/>
<text x="285.25" y="119.20" font-size="6.0" font-weight="bold" text-anchor="middle" fill="#000" stroke="#000" stroke-width="0.22" >10</text>
<line x1="294.66" y1="109.60" x2="294.66" y2="110.80" stroke="#333" stroke-width="0.7"/>
<line x1="300.16" y1="109.60" x2="300.16" y2="110.80" stroke="#333" stroke-width="0.7"/>
<line x1="304.06" y1="109.60" x2="304.06" y2="110.80" stroke="#333" stroke-width="0.7"/>
<line x1="307.09" y1="109.60" x2="307.09" y2="110.80" stroke="#333" stroke-width="0.7"/>
<line x1="309.57" y1="109.60" x2="309.57" y2="110.80" stroke="#333" stroke-width="0.7"/>
<line x1="311.66" y1="109.60" x2="311.66" y2="110.80" stroke="#333" stroke-width="0.7"/>
<line x1="313.47" y1="109.60" x2="313.47" y2="110.80" stroke="#333" stroke-width="0.7"/>
<line x1="315.07" y1="109.60" x2="315.07" y2="110.80" stroke="#333" stroke-width="0.7"/>
<line x1="316.50" y1="109.60" x2="316.50" y2="111.40" stroke="#333" stroke-width="0.9"/>
<text x="316.50" y="119.20" font-size="6.0" font-weight="bold" text-anchor="middle" fill="#000" stroke="#000" stroke-width="0.22" >100</text>
<line x1="325.91" y1="109.60" x2="325.91" y2="110.80" stroke="#333" stroke-width="0.7"/>
<line x1="331.41" y1="109.60" x2="331.41" y2="110.80" stroke="#333" stroke-width="0.7"/>
<line x1="335.31" y1="109.60" x2="335.31" y2="110.80" stroke="#333" stroke-width="0.7"/>
<line x1="338.34" y1="109.60" x2="338.34" y2="110.80" stroke="#333" stroke-width="0.7"/>
<line x1="340.82" y1="109.60" x2="340.82" y2="110.80" stroke="#333" stroke-width="0.7"/>
<line x1="342.91" y1="109.60" x2="342.91" y2="110.80" stroke="#333" stroke-width="0.7"/>
<line x1="344.72" y1="109.60" x2="344.72" y2="110.80" stroke="#333" stroke-width="0.7"/>
<line x1="346.32" y1="109.60" x2="346.32" y2="110.80" stroke="#333" stroke-width="0.7"/>
<line x1="347.75" y1="109.60" x2="347.75" y2="111.40" stroke="#333" stroke-width="0.9"/>
<text x="347.75" y="119.20" font-size="6.0" font-weight="bold" text-anchor="middle" fill="#000" stroke="#000" stroke-width="0.22" >1,000</text>
<line x1="357.16" y1="109.60" x2="357.16" y2="110.80" stroke="#333" stroke-width="0.7"/>
<line x1="362.66" y1="109.60" x2="362.66" y2="110.80" stroke="#333" stroke-width="0.7"/>
<line x1="366.56" y1="109.60" x2="366.56" y2="110.80" stroke="#333" stroke-width="0.7"/>
<line x1="369.59" y1="109.60" x2="369.59" y2="110.80" stroke="#333" stroke-width="0.7"/>
<line x1="372.07" y1="109.60" x2="372.07" y2="110.80" stroke="#333" stroke-width="0.7"/>
<line x1="374.16" y1="109.60" x2="374.16" y2="110.80" stroke="#333" stroke-width="0.7"/>
<line x1="375.97" y1="109.60" x2="375.97" y2="110.80" stroke="#333" stroke-width="0.7"/>
<line x1="377.57" y1="109.60" x2="377.57" y2="110.80" stroke="#333" stroke-width="0.7"/>
<line x1="379.00" y1="109.60" x2="379.00" y2="111.40" stroke="#333" stroke-width="0.9"/>
<text x="379.00" y="119.20" font-size="6.0" font-weight="bold" text-anchor="middle" fill="#000" stroke="#000" stroke-width="0.22" >10,000</text>
<text x="322.10" y="128.20" font-size="6.8" text-anchor="middle" fill="#111" stroke="#111" stroke-width="0.12" >LXH254 (nmol/L)</text>
<text transform="translate(235.50,60.55) rotate(-90)" font-size="7.2" text-anchor="middle" fill="#111" stroke="#111" stroke-width="0.12">% control growth</text>
<text x="281.60" y="6.50" font-size="7.4" font-weight="bold" fill="#111" stroke="#111" stroke-width="0.2">MIA PaCa-2 (KRAS<tspan font-size="4.7" dy="-1.9" letter-spacing="0.3">G12C</tspan><tspan dy="1.9">)</tspan></text>
<line x1="28.50" y1="213.90" x2="150.39" y2="213.90" stroke="#111" stroke-width="0.8" stroke-dasharray="0.9 1.6"/>
<polyline points="34.08,182.90 35.37,183.51 36.66,184.14 37.95,184.79 39.25,185.45 40.54,186.13 41.83,186.83 43.12,187.54 44.42,188.27 45.71,189.01 47.00,189.77 48.29,190.55 49.59,191.34 50.88,192.14 52.17,192.96 53.46,193.79 54.76,194.63 56.05,195.49 57.34,196.36 58.63,197.24 59.92,198.14 61.22,199.04 62.51,199.95 63.80,200.88 65.09,201.81 66.39,202.74 67.68,203.69 68.97,204.64 70.26,205.59 71.56,206.55 72.85,207.51 74.14,208.48 75.43,209.44 76.73,210.41 78.02,211.37 79.31,212.34 80.60,213.30 81.89,214.25 83.19,215.21 84.48,216.16 85.77,217.10 87.06,218.03 88.36,218.96 89.65,219.88 90.94,220.79 92.23,221.69 93.53,222.58 94.82,223.46 96.11,224.32 97.40,225.18 98.70,226.02 99.99,226.85 101.28,227.66 102.57,228.46 103.86,229.24 105.16,230.01 106.45,230.77 107.74,231.51 109.03,232.23 110.33,232.94 111.62,233.63 112.91,234.30 114.20,234.96 115.50,235.60 116.79,236.23 118.08,236.84 119.37,237.43 120.67,238.01 121.96,238.57 123.25,239.12 124.54,239.65 125.84,240.16 127.13,240.66 128.42,241.15 129.71,241.61 131.00,242.07 132.30,242.51 133.59,242.94 134.88,243.35 136.17,243.75 137.47,244.13 138.76,244.51 140.05,244.87 141.34,245.21 142.64,245.55 143.93,245.87 145.22,246.19 146.51,246.49 147.81,246.78 149.10,247.06 150.39,247.33" fill="none" stroke="#f07a30" stroke-width="1.2"/>
<polyline points="34.08,177.53 35.37,177.92 36.66,178.33 37.95,178.77 39.25,179.23 40.54,179.71 41.83,180.21 43.12,180.74 44.42,181.29 45.71,181.87 47.00,182.47 48.29,183.10 49.59,183.76 50.88,184.45 52.17,185.17 53.46,185.91 54.76,186.68 56.05,187.49 57.34,188.32 58.63,189.18 59.92,190.07 61.22,190.99 62.51,191.94 63.80,192.91 65.09,193.92 66.39,194.95 67.68,196.00 68.97,197.08 70.26,198.19 71.56,199.31 72.85,200.46 74.14,201.62 75.43,202.80 76.73,204.00 78.02,205.21 79.31,206.43 80.60,207.66 81.89,208.89 83.19,210.13 84.48,211.37 85.77,212.61 87.06,213.85 88.36,215.08 89.65,216.31 90.94,217.52 92.23,218.73 93.53,219.92 94.82,221.09 96.11,222.25 97.40,223.38 98.70,224.50 99.99,225.59 101.28,226.66 102.57,227.70 103.86,228.72 105.16,229.71 106.45,230.67 107.74,231.60 109.03,232.51 110.33,233.39 111.62,234.23 112.91,235.05 114.20,235.84 115.50,236.60 116.79,237.33 118.08,238.03 119.37,238.70 120.67,239.35 121.96,239.97 123.25,240.56 124.54,241.12 125.84,241.66 127.13,242.18 128.42,242.67 129.71,243.14 131.00,243.59 132.30,244.01 133.59,244.41 134.88,244.80 136.17,245.16 137.47,245.51 138.76,245.84 140.05,246.15 141.34,246.44 142.64,246.72 143.93,246.99 145.22,247.24 146.51,247.48 147.81,247.70 149.10,247.91 150.39,248.11" fill="none" stroke="#6a1a8c" stroke-width="1.2"/>
<polyline points="34.08,164.86 35.37,165.17 36.66,165.51 37.95,165.87 39.25,166.25 40.54,166.66 41.83,167.08 43.12,167.54 44.42,168.02 45.71,168.53 47.00,169.07 48.29,169.64 49.59,170.24 50.88,170.87 52.17,171.54 53.46,172.24 54.76,172.98 56.05,173.75 57.34,174.56 58.63,175.42 59.92,176.31 61.22,177.24 62.51,178.21 63.80,179.23 65.09,180.28 66.39,181.37 67.68,182.51 68.97,183.69 70.26,184.90 71.56,186.15 72.85,187.44 74.14,188.77 75.43,190.13 76.73,191.52 78.02,192.94 79.31,194.39 80.60,195.86 81.89,197.36 83.19,198.87 84.48,200.40 85.77,201.94 87.06,203.48 88.36,205.04 89.65,206.59 90.94,208.14 92.23,209.68 93.53,211.21 94.82,212.73 96.11,214.24 97.40,215.72 98.70,217.18 99.99,218.62 101.28,220.02 102.57,221.40 103.86,222.74 105.16,224.05 106.45,225.32 107.74,226.55 109.03,227.75 110.33,228.90 111.62,230.02 112.91,231.09 114.20,232.13 115.50,233.12 116.79,234.07 118.08,234.98 119.37,235.85 120.67,236.69 121.96,237.48 123.25,238.24 124.54,238.96 125.84,239.64 127.13,240.29 128.42,240.91 129.71,241.49 131.00,242.04 132.30,242.57 133.59,243.06 134.88,243.53 136.17,243.97 137.47,244.38 138.76,244.78 140.05,245.15 141.34,245.49 142.64,245.82 143.93,246.13 145.22,246.42 146.51,246.69 147.81,246.95 149.10,247.19 150.39,247.41" fill="none" stroke="#2f9a3a" stroke-width="1.2"/>
<polyline points="34.08,178.77 35.37,178.86 36.66,178.96 37.95,179.06 39.25,179.17 40.54,179.29 41.83,179.41 43.12,179.54 44.42,179.67 45.71,179.82 47.00,179.97 48.29,180.12 49.59,180.29 50.88,180.46 52.17,180.65 53.46,180.84 54.76,181.04 56.05,181.25 57.34,181.48 58.63,181.71 59.92,181.96 61.22,182.22 62.51,182.49 63.80,182.78 65.09,183.08 66.39,183.39 67.68,183.72 68.97,184.07 70.26,184.43 71.56,184.81 72.85,185.20 74.14,185.62 75.43,186.05 76.73,186.50 78.02,186.97 79.31,187.46 80.60,187.98 81.89,188.51 83.19,189.07 84.48,189.65 85.77,190.25 87.06,190.88 88.36,191.53 89.65,192.20 90.94,192.90 92.23,193.63 93.53,194.38 94.82,195.15 96.11,195.95 97.40,196.78 98.70,197.63 99.99,198.51 101.28,199.41 102.57,200.34 103.86,201.29 105.16,202.27 106.45,203.27 107.74,204.29 109.03,205.33 110.33,206.40 111.62,207.48 112.91,208.58 114.20,209.70 115.50,210.84 116.79,211.99 118.08,213.16 119.37,214.34 120.67,215.52 121.96,216.72 123.25,217.92 124.54,219.13 125.84,220.34 127.13,221.55 128.42,222.77 129.71,223.98 131.00,225.18 132.30,226.38 133.59,227.57 134.88,228.76 136.17,229.93 137.47,231.09 138.76,232.24 140.05,233.37 141.34,234.49 142.64,235.58 143.93,236.66 145.22,237.72 146.51,238.75 147.81,239.77 149.10,240.76 150.39,241.73" fill="none" stroke="#000" stroke-width="1.2"/>
<polyline points="34.08,172.41 35.37,172.43 36.66,172.45 37.95,172.47 39.25,172.50 40.54,172.53 41.83,172.56 43.12,172.59 44.42,172.63 45.71,172.67 47.00,172.72 48.29,172.77 49.59,172.83 50.88,172.89 52.17,172.95 53.46,173.03 54.76,173.11 56.05,173.19 57.34,173.29 58.63,173.40 59.92,173.51 61.22,173.64 62.51,173.78 63.80,173.93 65.09,174.10 66.39,174.28 67.68,174.48 68.97,174.70 70.26,174.94 71.56,175.21 72.85,175.49 74.14,175.80 75.43,176.14 76.73,176.51 78.02,176.92 79.31,177.35 80.60,177.83 81.89,178.34 83.19,178.90 84.48,179.50 85.77,180.15 87.06,180.85 88.36,181.61 89.65,182.41 90.94,183.28 92.23,184.21 93.53,185.20 94.82,186.25 96.11,187.36 97.40,188.54 98.70,189.79 99.99,191.10 101.28,192.47 102.57,193.90 103.86,195.39 105.16,196.93 106.45,198.52 107.74,200.16 109.03,201.84 110.33,203.54 111.62,205.28 112.91,207.03 114.20,208.79 115.50,210.55 116.79,212.31 118.08,214.05 119.37,215.78 120.67,217.47 121.96,219.13 123.25,220.75 124.54,222.32 125.84,223.84 127.13,225.30 128.42,226.70 129.71,228.05 131.00,229.33 132.30,230.54 133.59,231.69 134.88,232.78 136.17,233.80 137.47,234.76 138.76,235.66 140.05,236.50 141.34,237.28 142.64,238.01 143.93,238.69 145.22,239.32 146.51,239.90 147.81,240.44 149.10,240.93 150.39,241.39" fill="none" stroke="#1a1ab4" stroke-width="1.2"/>
<path d="M34.08,176.07V189.97M32.98,176.07h2.2M32.98,189.97h2.2" stroke="#f07a30" stroke-width="0.7" fill="none"/>
<polygon points="34.08,185.55 31.74,181.26 36.42,181.26" fill="#f07a30"/>
<path d="M53.46,189.20V198.46M52.36,189.20h2.2M52.36,198.46h2.2" stroke="#f07a30" stroke-width="0.7" fill="none"/>
<polygon points="53.46,196.36 51.12,192.07 55.80,192.07" fill="#f07a30"/>
<path d="M72.85,202.32V210.04M71.75,202.32h2.2M71.75,210.04h2.2" stroke="#f07a30" stroke-width="0.7" fill="none"/>
<polygon points="72.85,208.72 70.51,204.43 75.19,204.43" fill="#f07a30"/>
<path d="M92.23,220.85V228.57M91.13,220.85h2.2M91.13,228.57h2.2" stroke="#f07a30" stroke-width="0.7" fill="none"/>
<polygon points="92.23,227.24 89.89,222.95 94.57,222.95" fill="#f07a30"/>
<path d="M111.62,228.18V232.81M110.52,228.18h2.2M110.52,232.81h2.2" stroke="#f07a30" stroke-width="0.7" fill="none"/>
<polygon points="111.62,233.03 109.28,228.74 113.96,228.74" fill="#f07a30"/>
<path d="M131.00,242.08V245.17M129.90,242.08h2.2M129.90,245.17h2.2" stroke="#f07a30" stroke-width="0.7" fill="none"/>
<polygon points="131.00,246.16 128.66,241.87 133.34,241.87" fill="#f07a30"/>
<path d="M150.39,245.55V248.64M149.29,245.55h2.2M149.29,248.64h2.2" stroke="#f07a30" stroke-width="0.7" fill="none"/>
<polygon points="150.39,249.63 148.05,245.34 152.73,245.34" fill="#f07a30"/>
<path d="M34.08,176.07V180.70M32.98,176.07h2.2M32.98,180.70h2.2" stroke="#6a1a8c" stroke-width="0.7" fill="none"/>
<rect x="32.22" y="176.54" width="3.70" height="3.70" fill="#6a1a8c"/>
<path d="M53.46,182.25V186.88M52.36,182.25h2.2M52.36,186.88h2.2" stroke="#6a1a8c" stroke-width="0.7" fill="none"/>
<rect x="51.61" y="182.71" width="3.70" height="3.70" fill="#6a1a8c"/>
<path d="M72.85,198.46V201.55M71.75,198.46h2.2M71.75,201.55h2.2" stroke="#6a1a8c" stroke-width="0.7" fill="none"/>
<rect x="71.00" y="198.15" width="3.70" height="3.70" fill="#6a1a8c"/>
<path d="M92.23,220.08V223.16M91.13,220.08h2.2M91.13,223.16h2.2" stroke="#6a1a8c" stroke-width="0.7" fill="none"/>
<rect x="90.38" y="219.77" width="3.70" height="3.70" fill="#6a1a8c"/>
<path d="M111.62,228.95V232.04M110.52,228.95h2.2M110.52,232.04h2.2" stroke="#6a1a8c" stroke-width="0.7" fill="none"/>
<rect x="109.77" y="228.65" width="3.70" height="3.70" fill="#6a1a8c"/>
<path d="M131.00,244.78V246.32M129.90,244.78h2.2M129.90,246.32h2.2" stroke="#6a1a8c" stroke-width="0.7" fill="none"/>
<rect x="129.15" y="243.70" width="3.70" height="3.70" fill="#6a1a8c"/>
<path d="M150.39,247.10V248.64M149.29,247.10h2.2M149.29,248.64h2.2" stroke="#6a1a8c" stroke-width="0.7" fill="none"/>
<rect x="148.54" y="246.02" width="3.70" height="3.70" fill="#6a1a8c"/>
<path d="M34.08,159.86V172.21M32.98,159.86h2.2M32.98,172.21h2.2" stroke="#2f9a3a" stroke-width="0.7" fill="none"/>
<polygon points="34.08,163.50 31.74,167.79 36.42,167.79" fill="#2f9a3a"/>
<path d="M53.46,166.81V174.53M52.36,166.81h2.2M52.36,174.53h2.2" stroke="#2f9a3a" stroke-width="0.7" fill="none"/>
<polygon points="53.46,168.13 51.12,172.42 55.80,172.42" fill="#2f9a3a"/>
<path d="M72.85,184.56V189.20M71.75,184.56h2.2M71.75,189.20h2.2" stroke="#2f9a3a" stroke-width="0.7" fill="none"/>
<polygon points="72.85,184.34 70.51,188.63 75.19,188.63" fill="#2f9a3a"/>
<path d="M92.23,210.81V213.90M91.13,210.81h2.2M91.13,213.90h2.2" stroke="#2f9a3a" stroke-width="0.7" fill="none"/>
<polygon points="92.23,209.82 89.89,214.11 94.57,214.11" fill="#2f9a3a"/>
<path d="M111.62,225.48V228.57M110.52,225.48h2.2M110.52,228.57h2.2" stroke="#2f9a3a" stroke-width="0.7" fill="none"/>
<polygon points="111.62,224.49 109.28,228.78 113.96,228.78" fill="#2f9a3a"/>
<path d="M131.00,242.46V244.01M129.90,242.46h2.2M129.90,244.01h2.2" stroke="#2f9a3a" stroke-width="0.7" fill="none"/>
<polygon points="131.00,240.70 128.66,244.99 133.34,244.99" fill="#2f9a3a"/>
<path d="M150.39,246.71V248.25M149.29,246.71h2.2M149.29,248.25h2.2" stroke="#2f9a3a" stroke-width="0.7" fill="none"/>
<polygon points="150.39,244.95 148.05,249.24 152.73,249.24" fill="#2f9a3a"/>
<path d="M34.08,175.30V179.93M32.98,175.30h2.2M32.98,179.93h2.2" stroke="#000" stroke-width="0.7" fill="none"/>
<circle cx="34.08" cy="177.62" r="1.46" fill="#000"/>
<path d="M53.46,179.16V183.79M52.36,179.16h2.2M52.36,183.79h2.2" stroke="#000" stroke-width="0.7" fill="none"/>
<circle cx="53.46" cy="181.48" r="1.46" fill="#000"/>
<path d="M72.85,183.41V188.04M71.75,183.41h2.2M71.75,188.04h2.2" stroke="#000" stroke-width="0.7" fill="none"/>
<circle cx="72.85" cy="185.72" r="1.46" fill="#000"/>
<path d="M92.23,193.06V197.69M91.13,193.06h2.2M91.13,197.69h2.2" stroke="#000" stroke-width="0.7" fill="none"/>
<circle cx="92.23" cy="195.37" r="1.46" fill="#000"/>
<path d="M111.62,201.55V206.18M110.52,201.55h2.2M110.52,206.18h2.2" stroke="#000" stroke-width="0.7" fill="none"/>
<circle cx="111.62" cy="203.86" r="1.46" fill="#000"/>
<path d="M131.00,226.25V229.34M129.90,226.25h2.2M129.90,229.34h2.2" stroke="#000" stroke-width="0.7" fill="none"/>
<circle cx="131.00" cy="227.80" r="1.46" fill="#000"/>
<path d="M150.39,239.38V242.46M149.29,239.38h2.2M149.29,242.46h2.2" stroke="#000" stroke-width="0.7" fill="none"/>
<circle cx="150.39" cy="240.92" r="1.46" fill="#000"/>
<path d="M34.08,170.67V173.76M32.98,170.67h2.2M32.98,173.76h2.2" stroke="#1a1ab4" stroke-width="0.7" fill="none"/>
<circle cx="34.08" cy="172.21" r="1.95" fill="#1a1ab4"/>
<path d="M53.46,170.67V175.30M52.36,170.67h2.2M52.36,175.30h2.2" stroke="#1a1ab4" stroke-width="0.7" fill="none"/>
<circle cx="53.46" cy="172.98" r="1.95" fill="#1a1ab4"/>
<path d="M72.85,176.07V180.70M71.75,176.07h2.2M71.75,180.70h2.2" stroke="#1a1ab4" stroke-width="0.7" fill="none"/>
<circle cx="72.85" cy="178.39" r="1.95" fill="#1a1ab4"/>
<path d="M92.23,187.65V190.74M91.13,187.65h2.2M91.13,190.74h2.2" stroke="#1a1ab4" stroke-width="0.7" fill="none"/>
<circle cx="92.23" cy="189.20" r="1.95" fill="#1a1ab4"/>
<path d="M111.62,196.14V200.78M110.52,196.14h2.2M110.52,200.78h2.2" stroke="#1a1ab4" stroke-width="0.7" fill="none"/>
<circle cx="111.62" cy="198.46" r="1.95" fill="#1a1ab4"/>
<path d="M131.00,227.02V231.66M129.90,227.02h2.2M129.90,231.66h2.2" stroke="#1a1ab4" stroke-width="0.7" fill="none"/>
<circle cx="131.00" cy="229.34" r="1.95" fill="#1a1ab4"/>
<path d="M150.39,239.76V242.85M149.29,239.76h2.2M149.29,242.85h2.2" stroke="#1a1ab4" stroke-width="0.7" fill="none"/>
<circle cx="150.39" cy="241.31" r="1.95" fill="#1a1ab4"/>
<path d="M28.50,156.00V252.50H150.39" stroke="#333" stroke-width="1.15" fill="none"/>
<line x1="26.30" y1="252.50" x2="28.50" y2="252.50" stroke="#333" stroke-width="0.9"/>
<text x="25.90" y="254.60" font-size="6.0" font-weight="bold" text-anchor="end" fill="#000" stroke="#000" stroke-width="0.22" >0</text>
<line x1="26.30" y1="233.20" x2="28.50" y2="233.20" stroke="#333" stroke-width="0.9"/>
<text x="25.90" y="235.30" font-size="6.0" font-weight="bold" text-anchor="end" fill="#000" stroke="#000" stroke-width="0.22" >25</text>
<line x1="26.30" y1="213.90" x2="28.50" y2="213.90" stroke="#333" stroke-width="0.9"/>
<text x="25.90" y="216.00" font-size="6.0" font-weight="bold" text-anchor="end" fill="#000" stroke="#000" stroke-width="0.22" >50</text>
<line x1="26.30" y1="194.60" x2="28.50" y2="194.60" stroke="#333" stroke-width="0.9"/>
<text x="25.90" y="196.70" font-size="6.0" font-weight="bold" text-anchor="end" fill="#000" stroke="#000" stroke-width="0.22" >75</text>
<line x1="26.30" y1="175.30" x2="28.50" y2="175.30" stroke="#333" stroke-width="0.9"/>
<text x="25.90" y="177.40" font-size="6.0" font-weight="bold" text-anchor="end" fill="#000" stroke="#000" stroke-width="0.22" >100</text>
<line x1="26.30" y1="156.00" x2="28.50" y2="156.00" stroke="#333" stroke-width="0.9"/>
<text x="25.90" y="158.10" font-size="6.0" font-weight="bold" text-anchor="end" fill="#000" stroke="#000" stroke-width="0.22" >125</text>
<line x1="28.50" y1="252.50" x2="28.50" y2="254.30" stroke="#333" stroke-width="0.9"/>
<text x="28.50" y="262.30" font-size="6.5" font-weight="bold" text-anchor="middle" fill="#000" stroke="#000" stroke-width="0.22" >10</text>
<line x1="40.73" y1="252.50" x2="40.73" y2="253.70" stroke="#333" stroke-width="0.7"/>
<line x1="47.89" y1="252.50" x2="47.89" y2="253.70" stroke="#333" stroke-width="0.7"/>
<line x1="52.96" y1="252.50" x2="52.96" y2="253.70" stroke="#333" stroke-width="0.7"/>
<line x1="56.90" y1="252.50" x2="56.90" y2="253.70" stroke="#333" stroke-width="0.7"/>
<line x1="60.12" y1="252.50" x2="60.12" y2="253.70" stroke="#333" stroke-width="0.7"/>
<line x1="62.84" y1="252.50" x2="62.84" y2="253.70" stroke="#333" stroke-width="0.7"/>
<line x1="65.19" y1="252.50" x2="65.19" y2="253.70" stroke="#333" stroke-width="0.7"/>
<line x1="67.27" y1="252.50" x2="67.27" y2="253.70" stroke="#333" stroke-width="0.7"/>
<line x1="69.13" y1="252.50" x2="69.13" y2="254.30" stroke="#333" stroke-width="0.9"/>
<text x="69.13" y="262.30" font-size="6.5" font-weight="bold" text-anchor="middle" fill="#000" stroke="#000" stroke-width="0.22" >100</text>
<line x1="81.36" y1="252.50" x2="81.36" y2="253.70" stroke="#333" stroke-width="0.7"/>
<line x1="88.52" y1="252.50" x2="88.52" y2="253.70" stroke="#333" stroke-width="0.7"/>
<line x1="93.59" y1="252.50" x2="93.59" y2="253.70" stroke="#333" stroke-width="0.7"/>
<line x1="97.53" y1="252.50" x2="97.53" y2="253.70" stroke="#333" stroke-width="0.7"/>
<line x1="100.75" y1="252.50" x2="100.75" y2="253.70" stroke="#333" stroke-width="0.7"/>
<line x1="103.47" y1="252.50" x2="103.47" y2="253.70" stroke="#333" stroke-width="0.7"/>
<line x1="105.82" y1="252.50" x2="105.82" y2="253.70" stroke="#333" stroke-width="0.7"/>
<line x1="107.90" y1="252.50" x2="107.90" y2="253.70" stroke="#333" stroke-width="0.7"/>
<line x1="109.76" y1="252.50" x2="109.76" y2="254.30" stroke="#333" stroke-width="0.9"/>
<text x="109.76" y="262.30" font-size="6.5" font-weight="bold" text-anchor="middle" fill="#000" stroke="#000" stroke-width="0.22" >1,000</text>
<line x1="121.99" y1="252.50" x2="121.99" y2="253.70" stroke="#333" stroke-width="0.7"/>
<line x1="129.15" y1="252.50" x2="129.15" y2="253.70" stroke="#333" stroke-width="0.7"/>
<line x1="134.22" y1="252.50" x2="134.22" y2="253.70" stroke="#333" stroke-width="0.7"/>
<line x1="138.16" y1="252.50" x2="138.16" y2="253.70" stroke="#333" stroke-width="0.7"/>
<line x1="141.38" y1="252.50" x2="141.38" y2="253.70" stroke="#333" stroke-width="0.7"/>
<line x1="144.10" y1="252.50" x2="144.10" y2="253.70" stroke="#333" stroke-width="0.7"/>
<line x1="146.45" y1="252.50" x2="146.45" y2="253.70" stroke="#333" stroke-width="0.7"/>
<line x1="148.53" y1="252.50" x2="148.53" y2="253.70" stroke="#333" stroke-width="0.7"/>
<line x1="150.39" y1="252.50" x2="150.39" y2="254.30" stroke="#333" stroke-width="0.9"/>
<text x="150.39" y="262.30" font-size="6.5" font-weight="bold" text-anchor="middle" fill="#000" stroke="#000" stroke-width="0.22" >10,000</text>
<text x="95.80" y="269.80" font-size="6.9" text-anchor="middle" fill="#111" stroke="#111" stroke-width="0.12" >LXH254 (nmol/L)</text>
<text transform="translate(11.50,204.85) rotate(-90)" font-size="6.7" text-anchor="middle" fill="#111" stroke="#111" stroke-width="0.12">% control growth</text>
<text x="61.40" y="150.90" font-size="7.4" font-weight="bold" fill="#111" stroke="#111" stroke-width="0.2">HCT 116 (KRAS<tspan font-size="4.7" dy="-1.9" letter-spacing="0.3">G13D</tspan><tspan dy="1.9">)</tspan></text>
<line x1="180.70" y1="215.10" x2="300.02" y2="215.10" stroke="#111" stroke-width="0.8" stroke-dasharray="0.9 1.6"/>
<polyline points="189.80,176.50 191.02,176.67 192.25,176.85 193.47,177.03 194.70,177.23 195.92,177.44 197.15,177.66 198.37,177.90 199.60,178.14 200.82,178.40 202.05,178.67 203.27,178.96 204.49,179.26 205.72,179.58 206.94,179.91 208.17,180.26 209.39,180.63 210.62,181.01 211.84,181.42 213.07,181.84 214.29,182.29 215.52,182.75 216.74,183.24 217.97,183.74 219.19,184.27 220.42,184.82 221.64,185.40 222.86,186.00 224.09,186.62 225.31,187.27 226.54,187.94 227.76,188.63 228.99,189.35 230.21,190.10 231.44,190.87 232.66,191.66 233.89,192.48 235.11,193.32 236.34,194.19 237.56,195.07 238.79,195.98 240.01,196.91 241.24,197.86 242.46,198.83 243.68,199.81 244.91,200.81 246.13,201.83 247.36,202.86 248.58,203.90 249.81,204.95 251.03,206.01 252.26,207.08 253.48,208.15 254.71,209.23 255.93,210.30 257.16,211.37 258.38,212.44 259.61,213.51 260.83,214.57 262.05,215.62 263.28,216.66 264.50,217.69 265.73,218.71 266.95,219.71 268.18,220.69 269.40,221.66 270.63,222.61 271.85,223.53 273.08,224.44 274.30,225.33 275.53,226.19 276.75,227.03 277.98,227.84 279.20,228.64 280.43,229.40 281.65,230.15 282.87,230.86 284.10,231.56 285.32,232.23 286.55,232.87 287.77,233.49 289.00,234.09 290.22,234.66 291.45,235.21 292.67,235.74 293.90,236.25 295.12,236.73 296.35,237.19 297.57,237.64 298.80,238.06 300.02,238.46" fill="none" stroke="#c03060" stroke-width="0.9"/>
<polyline points="189.80,175.49 191.02,175.67 192.25,175.86 193.47,176.06 194.70,176.27 195.92,176.49 197.15,176.72 198.37,176.97 199.60,177.23 200.82,177.51 202.05,177.80 203.27,178.10 204.49,178.43 205.72,178.76 206.94,179.12 208.17,179.50 209.39,179.89 210.62,180.30 211.84,180.74 213.07,181.19 214.29,181.67 215.52,182.17 216.74,182.69 217.97,183.24 219.19,183.81 220.42,184.40 221.64,185.02 222.86,185.67 224.09,186.34 225.31,187.04 226.54,187.76 227.76,188.51 228.99,189.29 230.21,190.09 231.44,190.93 232.66,191.78 233.89,192.66 235.11,193.57 236.34,194.51 237.56,195.46 238.79,196.44 240.01,197.44 241.24,198.46 242.46,199.50 243.68,200.56 244.91,201.64 246.13,202.73 247.36,203.83 248.58,204.94 249.81,206.07 251.03,207.20 252.26,208.33 253.48,209.47 254.71,210.61 255.93,211.75 257.16,212.88 258.38,214.01 259.61,215.14 260.83,216.25 262.05,217.35 263.28,218.44 264.50,219.52 265.73,220.58 266.95,221.62 268.18,222.64 269.40,223.64 270.63,224.62 271.85,225.57 273.08,226.50 274.30,227.41 275.53,228.29 276.75,229.15 277.98,229.98 279.20,230.78 280.43,231.56 281.65,232.31 282.87,233.03 284.10,233.73 285.32,234.40 286.55,235.05 287.77,235.67 289.00,236.26 290.22,236.83 291.45,237.38 292.67,237.90 293.90,238.40 295.12,238.87 296.35,239.33 297.57,239.76 298.80,240.18 300.02,240.57" fill="none" stroke="#6a1a8c" stroke-width="1.2"/>
<polyline points="189.80,175.99 191.02,176.24 192.25,176.51 193.47,176.78 194.70,177.07 195.92,177.37 197.15,177.69 198.37,178.01 199.60,178.36 200.82,178.71 202.05,179.09 203.27,179.48 204.49,179.88 205.72,180.30 206.94,180.74 208.17,181.20 209.39,181.68 210.62,182.17 211.84,182.69 213.07,183.22 214.29,183.77 215.52,184.35 216.74,184.94 217.97,185.55 219.19,186.19 220.42,186.85 221.64,187.53 222.86,188.23 224.09,188.95 225.31,189.69 226.54,190.45 227.76,191.24 228.99,192.05 230.21,192.88 231.44,193.72 232.66,194.59 233.89,195.48 235.11,196.39 236.34,197.31 237.56,198.26 238.79,199.22 240.01,200.19 241.24,201.18 242.46,202.19 243.68,203.21 244.91,204.24 246.13,205.28 247.36,206.33 248.58,207.39 249.81,208.45 251.03,209.52 252.26,210.60 253.48,211.67 254.71,212.75 255.93,213.83 257.16,214.90 258.38,215.97 259.61,217.04 260.83,218.10 262.05,219.16 263.28,220.20 264.50,221.23 265.73,222.26 266.95,223.27 268.18,224.26 269.40,225.25 270.63,226.21 271.85,227.16 273.08,228.09 274.30,229.01 275.53,229.90 276.75,230.78 277.98,231.64 279.20,232.47 280.43,233.29 281.65,234.08 282.87,234.85 284.10,235.60 285.32,236.33 286.55,237.04 287.77,237.73 289.00,238.39 290.22,239.03 291.45,239.66 292.67,240.26 293.90,240.84 295.12,241.40 296.35,241.94 297.57,242.46 298.80,242.96 300.02,243.45" fill="none" stroke="#2f9a3a" stroke-width="1.2"/>
<polyline points="189.80,175.42 191.02,175.49 192.25,175.58 193.47,175.66 194.70,175.75 195.92,175.84 197.15,175.94 198.37,176.04 199.60,176.15 200.82,176.26 202.05,176.38 203.27,176.51 204.49,176.64 205.72,176.77 206.94,176.92 208.17,177.07 209.39,177.22 210.62,177.39 211.84,177.56 213.07,177.74 214.29,177.93 215.52,178.13 216.74,178.33 217.97,178.55 219.19,178.78 220.42,179.01 221.64,179.26 222.86,179.52 224.09,179.79 225.31,180.08 226.54,180.37 227.76,180.68 228.99,181.01 230.21,181.34 231.44,181.70 232.66,182.07 233.89,182.45 235.11,182.85 236.34,183.27 237.56,183.70 238.79,184.16 240.01,184.63 241.24,185.12 242.46,185.64 243.68,186.17 244.91,186.72 246.13,187.30 247.36,187.90 248.58,188.52 249.81,189.17 251.03,189.84 252.26,190.53 253.48,191.25 254.71,191.99 255.93,192.76 257.16,193.56 258.38,194.38 259.61,195.23 260.83,196.11 262.05,197.02 263.28,197.95 264.50,198.91 265.73,199.90 266.95,200.91 268.18,201.96 269.40,203.03 270.63,204.12 271.85,205.25 273.08,206.40 274.30,207.58 275.53,208.78 276.75,210.00 277.98,211.26 279.20,212.53 280.43,213.82 281.65,215.14 282.87,216.48 284.10,217.83 285.32,219.20 286.55,220.59 287.77,221.99 289.00,223.41 290.22,224.84 291.45,226.27 292.67,227.72 293.90,229.17 295.12,230.62 296.35,232.08 297.57,233.54 298.80,235.00 300.02,236.46" fill="none" stroke="#000" stroke-width="1.2"/>
<polyline points="189.80,173.45 191.02,173.64 192.25,173.84 193.47,174.05 194.70,174.26 195.92,174.49 197.15,174.72 198.37,174.96 199.60,175.21 200.82,175.48 202.05,175.75 203.27,176.03 204.49,176.32 205.72,176.63 206.94,176.95 208.17,177.27 209.39,177.62 210.62,177.97 211.84,178.34 213.07,178.72 214.29,179.11 215.52,179.52 216.74,179.94 217.97,180.38 219.19,180.84 220.42,181.31 221.64,181.79 222.86,182.29 224.09,182.81 225.31,183.35 226.54,183.90 227.76,184.47 228.99,185.06 230.21,185.66 231.44,186.29 232.66,186.93 233.89,187.59 235.11,188.27 236.34,188.97 237.56,189.69 238.79,190.42 240.01,191.18 241.24,191.95 242.46,192.75 243.68,193.56 244.91,194.39 246.13,195.24 247.36,196.11 248.58,197.00 249.81,197.90 251.03,198.82 252.26,199.76 253.48,200.72 254.71,201.69 255.93,202.68 257.16,203.68 258.38,204.69 259.61,205.72 260.83,206.76 262.05,207.82 263.28,208.88 264.50,209.95 265.73,211.04 266.95,212.13 268.18,213.23 269.40,214.33 270.63,215.44 271.85,216.56 273.08,217.67 274.30,218.79 275.53,219.91 276.75,221.03 277.98,222.15 279.20,223.27 280.43,224.38 281.65,225.49 282.87,226.59 284.10,227.69 285.32,228.77 286.55,229.85 287.77,230.92 289.00,231.98 290.22,233.03 291.45,234.07 292.67,235.09 293.90,236.10 295.12,237.09 296.35,238.07 297.57,239.04 298.80,239.99 300.02,240.92" fill="none" stroke="#1a1ab4" stroke-width="1.2"/>
<rect x="187.95" y="174.65" width="3.70" height="3.70" fill="#c03060"/>
<rect x="199.94" y="176.76" width="3.70" height="3.70" fill="#c03060"/>
<rect x="213.15" y="180.70" width="3.70" height="3.70" fill="#c03060"/>
<rect x="227.00" y="187.42" width="3.70" height="3.70" fill="#c03060"/>
<rect x="241.24" y="197.48" width="3.70" height="3.70" fill="#c03060"/>
<rect x="255.47" y="209.67" width="3.70" height="3.70" fill="#c03060"/>
<rect x="269.70" y="221.46" width="3.70" height="3.70" fill="#c03060"/>
<rect x="283.93" y="230.62" width="3.70" height="3.70" fill="#c03060"/>
<rect x="298.17" y="236.61" width="3.70" height="3.70" fill="#c03060"/>
<rect x="187.95" y="174.08" width="3.70" height="3.70" fill="#6a1a8c"/>
<rect x="199.94" y="175.62" width="3.70" height="3.70" fill="#6a1a8c"/>
<rect x="213.15" y="177.92" width="3.70" height="3.70" fill="#6a1a8c"/>
<rect x="227.00" y="188.06" width="3.70" height="3.70" fill="#6a1a8c"/>
<rect x="241.24" y="198.66" width="3.70" height="3.70" fill="#6a1a8c"/>
<rect x="255.47" y="211.71" width="3.70" height="3.70" fill="#6a1a8c"/>
<rect x="269.70" y="222.85" width="3.70" height="3.70" fill="#6a1a8c"/>
<rect x="283.93" y="232.22" width="3.70" height="3.70" fill="#6a1a8c"/>
<rect x="298.17" y="239.36" width="3.70" height="3.70" fill="#6a1a8c"/>
<path d="M189.80,175.16V178.24M188.70,175.16h2.2M188.70,178.24h2.2" stroke="#2f9a3a" stroke-width="0.7" fill="none"/>
<polygon points="189.80,174.16 187.46,178.45 192.14,178.45" fill="#2f9a3a"/>
<path d="M201.79,176.70V179.77M200.69,176.70h2.2M200.69,179.77h2.2" stroke="#2f9a3a" stroke-width="0.7" fill="none"/>
<polygon points="201.79,175.70 199.45,179.99 204.13,179.99" fill="#2f9a3a"/>
<path d="M215.00,178.24V182.84M213.90,178.24h2.2M213.90,182.84h2.2" stroke="#2f9a3a" stroke-width="0.7" fill="none"/>
<polygon points="215.00,178.00 212.66,182.29 217.34,182.29" fill="#2f9a3a"/>
<path d="M228.86,193.06V196.13M227.76,193.06h2.2M227.76,196.13h2.2" stroke="#2f9a3a" stroke-width="0.7" fill="none"/>
<polygon points="228.86,192.06 226.52,196.35 231.20,196.35" fill="#2f9a3a"/>
<path d="M243.09,201.35V204.42M241.99,201.35h2.2M241.99,204.42h2.2" stroke="#2f9a3a" stroke-width="0.7" fill="none"/>
<polygon points="243.09,200.35 240.75,204.64 245.43,204.64" fill="#2f9a3a"/>
<path d="M257.32,214.41V215.94M256.22,214.41h2.2M256.22,215.94h2.2" stroke="#2f9a3a" stroke-width="0.7" fill="none"/>
<polygon points="257.32,212.64 254.98,216.93 259.66,216.93" fill="#2f9a3a"/>
<path d="M271.55,225.31V226.85M270.45,225.31h2.2M270.45,226.85h2.2" stroke="#2f9a3a" stroke-width="0.7" fill="none"/>
<polygon points="271.55,223.55 269.21,227.84 273.89,227.84" fill="#2f9a3a"/>
<path d="M285.79,235.76V237.30M284.69,235.76h2.2M284.69,237.30h2.2" stroke="#2f9a3a" stroke-width="0.7" fill="none"/>
<polygon points="285.79,233.99 283.45,238.28 288.13,238.28" fill="#2f9a3a"/>
<path d="M300.02,243.06V244.59M298.92,243.06h2.2M298.92,244.59h2.2" stroke="#2f9a3a" stroke-width="0.7" fill="none"/>
<polygon points="300.02,241.29 297.68,245.58 302.36,245.58" fill="#2f9a3a"/>
<path d="M189.80,174.40V177.47M188.70,174.40h2.2M188.70,177.47h2.2" stroke="#000" stroke-width="0.7" fill="none"/>
<circle cx="189.80" cy="175.93" r="1.46" fill="#000"/>
<path d="M201.79,174.40V177.47M200.69,174.40h2.2M200.69,177.47h2.2" stroke="#000" stroke-width="0.7" fill="none"/>
<circle cx="201.79" cy="175.93" r="1.46" fill="#000"/>
<path d="M215.00,175.16V178.24M213.90,175.16h2.2M213.90,178.24h2.2" stroke="#000" stroke-width="0.7" fill="none"/>
<circle cx="215.00" cy="176.70" r="1.46" fill="#000"/>
<path d="M228.86,178.77V183.38M227.76,178.77h2.2M227.76,183.38h2.2" stroke="#000" stroke-width="0.7" fill="none"/>
<circle cx="228.86" cy="181.08" r="1.46" fill="#000"/>
<path d="M243.09,184.53V189.14M241.99,184.53h2.2M241.99,189.14h2.2" stroke="#000" stroke-width="0.7" fill="none"/>
<circle cx="243.09" cy="186.84" r="1.46" fill="#000"/>
<path d="M257.32,193.75V196.82M256.22,193.75h2.2M256.22,196.82h2.2" stroke="#000" stroke-width="0.7" fill="none"/>
<circle cx="257.32" cy="195.29" r="1.46" fill="#000"/>
<path d="M271.55,200.20V203.27M270.45,200.20h2.2M270.45,203.27h2.2" stroke="#000" stroke-width="0.7" fill="none"/>
<circle cx="271.55" cy="201.74" r="1.46" fill="#000"/>
<path d="M285.79,220.25V223.32M284.69,220.25h2.2M284.69,223.32h2.2" stroke="#000" stroke-width="0.7" fill="none"/>
<circle cx="285.79" cy="221.78" r="1.46" fill="#000"/>
<path d="M300.02,234.45V237.53M298.92,234.45h2.2M298.92,237.53h2.2" stroke="#000" stroke-width="0.7" fill="none"/>
<circle cx="300.02" cy="235.99" r="1.46" fill="#000"/>
<path d="M189.80,172.86V177.47M188.70,172.86h2.2M188.70,177.47h2.2" stroke="#1a1ab4" stroke-width="0.7" fill="none"/>
<circle cx="189.80" cy="175.16" r="1.95" fill="#1a1ab4"/>
<path d="M201.79,171.32V175.93M200.69,171.32h2.2M200.69,175.93h2.2" stroke="#1a1ab4" stroke-width="0.7" fill="none"/>
<circle cx="201.79" cy="173.63" r="1.95" fill="#1a1ab4"/>
<path d="M215.00,175.93V179.00M213.90,175.93h2.2M213.90,179.00h2.2" stroke="#1a1ab4" stroke-width="0.7" fill="none"/>
<circle cx="215.00" cy="177.47" r="1.95" fill="#1a1ab4"/>
<path d="M228.86,182.08V185.15M227.76,182.08h2.2M227.76,185.15h2.2" stroke="#1a1ab4" stroke-width="0.7" fill="none"/>
<circle cx="228.86" cy="183.61" r="1.95" fill="#1a1ab4"/>
<path d="M243.09,196.67V199.74M241.99,196.67h2.2M241.99,199.74h2.2" stroke="#1a1ab4" stroke-width="0.7" fill="none"/>
<circle cx="243.09" cy="198.20" r="1.95" fill="#1a1ab4"/>
<path d="M257.32,200.20V203.27M256.22,200.20h2.2M256.22,203.27h2.2" stroke="#1a1ab4" stroke-width="0.7" fill="none"/>
<circle cx="257.32" cy="201.74" r="1.95" fill="#1a1ab4"/>
<path d="M271.55,213.64V216.71M270.45,213.64h2.2M270.45,216.71h2.2" stroke="#1a1ab4" stroke-width="0.7" fill="none"/>
<circle cx="271.55" cy="215.18" r="1.95" fill="#1a1ab4"/>
<path d="M285.79,228.54V231.61M284.69,228.54h2.2M284.69,231.61h2.2" stroke="#1a1ab4" stroke-width="0.7" fill="none"/>
<circle cx="285.79" cy="230.08" r="1.95" fill="#1a1ab4"/>
<path d="M300.02,239.29V242.36M298.92,239.29h2.2M298.92,242.36h2.2" stroke="#1a1ab4" stroke-width="0.7" fill="none"/>
<circle cx="300.02" cy="240.83" r="1.95" fill="#1a1ab4"/>
<path d="M180.70,157.50V253.50H300.02" stroke="#333" stroke-width="1.15" fill="none"/>
<line x1="178.50" y1="253.50" x2="180.70" y2="253.50" stroke="#333" stroke-width="0.9"/>
<text x="178.10" y="255.60" font-size="6.0" font-weight="bold" text-anchor="end" fill="#000" stroke="#000" stroke-width="0.22" >0</text>
<line x1="178.50" y1="234.30" x2="180.70" y2="234.30" stroke="#333" stroke-width="0.9"/>
<text x="178.10" y="236.40" font-size="6.0" font-weight="bold" text-anchor="end" fill="#000" stroke="#000" stroke-width="0.22" >25</text>
<line x1="178.50" y1="215.10" x2="180.70" y2="215.10" stroke="#333" stroke-width="0.9"/>
<text x="178.10" y="217.20" font-size="6.0" font-weight="bold" text-anchor="end" fill="#000" stroke="#000" stroke-width="0.22" >50</text>
<line x1="178.50" y1="195.90" x2="180.70" y2="195.90" stroke="#333" stroke-width="0.9"/>
<text x="178.10" y="198.00" font-size="6.0" font-weight="bold" text-anchor="end" fill="#000" stroke="#000" stroke-width="0.22" >75</text>
<line x1="178.50" y1="176.70" x2="180.70" y2="176.70" stroke="#333" stroke-width="0.9"/>
<text x="178.10" y="178.80" font-size="6.0" font-weight="bold" text-anchor="end" fill="#000" stroke="#000" stroke-width="0.22" >100</text>
<line x1="178.50" y1="157.50" x2="180.70" y2="157.50" stroke="#333" stroke-width="0.9"/>
<text x="178.10" y="159.60" font-size="6.0" font-weight="bold" text-anchor="end" fill="#000" stroke="#000" stroke-width="0.22" >125</text>
<line x1="180.70" y1="253.50" x2="180.70" y2="255.30" stroke="#333" stroke-width="0.9"/>
<text x="180.70" y="263.10" font-size="6.4" font-weight="bold" text-anchor="middle" fill="#000" stroke="#000" stroke-width="0.22" >1</text>
<line x1="189.68" y1="253.50" x2="189.68" y2="254.70" stroke="#333" stroke-width="0.7"/>
<line x1="194.93" y1="253.50" x2="194.93" y2="254.70" stroke="#333" stroke-width="0.7"/>
<line x1="198.66" y1="253.50" x2="198.66" y2="254.70" stroke="#333" stroke-width="0.7"/>
<line x1="201.55" y1="253.50" x2="201.55" y2="254.70" stroke="#333" stroke-width="0.7"/>
<line x1="203.91" y1="253.50" x2="203.91" y2="254.70" stroke="#333" stroke-width="0.7"/>
<line x1="205.91" y1="253.50" x2="205.91" y2="254.70" stroke="#333" stroke-width="0.7"/>
<line x1="207.64" y1="253.50" x2="207.64" y2="254.70" stroke="#333" stroke-width="0.7"/>
<line x1="209.17" y1="253.50" x2="209.17" y2="254.70" stroke="#333" stroke-width="0.7"/>
<line x1="210.53" y1="253.50" x2="210.53" y2="255.30" stroke="#333" stroke-width="0.9"/>
<text x="210.53" y="263.10" font-size="6.4" font-weight="bold" text-anchor="middle" fill="#000" stroke="#000" stroke-width="0.22" >10</text>
<line x1="219.51" y1="253.50" x2="219.51" y2="254.70" stroke="#333" stroke-width="0.7"/>
<line x1="224.76" y1="253.50" x2="224.76" y2="254.70" stroke="#333" stroke-width="0.7"/>
<line x1="228.49" y1="253.50" x2="228.49" y2="254.70" stroke="#333" stroke-width="0.7"/>
<line x1="231.38" y1="253.50" x2="231.38" y2="254.70" stroke="#333" stroke-width="0.7"/>
<line x1="233.74" y1="253.50" x2="233.74" y2="254.70" stroke="#333" stroke-width="0.7"/>
<line x1="235.74" y1="253.50" x2="235.74" y2="254.70" stroke="#333" stroke-width="0.7"/>
<line x1="237.47" y1="253.50" x2="237.47" y2="254.70" stroke="#333" stroke-width="0.7"/>
<line x1="239.00" y1="253.50" x2="239.00" y2="254.70" stroke="#333" stroke-width="0.7"/>
<line x1="240.36" y1="253.50" x2="240.36" y2="255.30" stroke="#333" stroke-width="0.9"/>
<text x="240.36" y="263.10" font-size="6.4" font-weight="bold" text-anchor="middle" fill="#000" stroke="#000" stroke-width="0.22" >100</text>
<line x1="249.34" y1="253.50" x2="249.34" y2="254.70" stroke="#333" stroke-width="0.7"/>
<line x1="254.59" y1="253.50" x2="254.59" y2="254.70" stroke="#333" stroke-width="0.7"/>
<line x1="258.32" y1="253.50" x2="258.32" y2="254.70" stroke="#333" stroke-width="0.7"/>
<line x1="261.21" y1="253.50" x2="261.21" y2="254.70" stroke="#333" stroke-width="0.7"/>
<line x1="263.57" y1="253.50" x2="263.57" y2="254.70" stroke="#333" stroke-width="0.7"/>
<line x1="265.57" y1="253.50" x2="265.57" y2="254.70" stroke="#333" stroke-width="0.7"/>
<line x1="267.30" y1="253.50" x2="267.30" y2="254.70" stroke="#333" stroke-width="0.7"/>
<line x1="268.83" y1="253.50" x2="268.83" y2="254.70" stroke="#333" stroke-width="0.7"/>
<line x1="270.19" y1="253.50" x2="270.19" y2="255.30" stroke="#333" stroke-width="0.9"/>
<text x="270.19" y="263.10" font-size="6.4" font-weight="bold" text-anchor="middle" fill="#000" stroke="#000" stroke-width="0.22" >1,000</text>
<line x1="279.17" y1="253.50" x2="279.17" y2="254.70" stroke="#333" stroke-width="0.7"/>
<line x1="284.42" y1="253.50" x2="284.42" y2="254.70" stroke="#333" stroke-width="0.7"/>
<line x1="288.15" y1="253.50" x2="288.15" y2="254.70" stroke="#333" stroke-width="0.7"/>
<line x1="291.04" y1="253.50" x2="291.04" y2="254.70" stroke="#333" stroke-width="0.7"/>
<line x1="293.40" y1="253.50" x2="293.40" y2="254.70" stroke="#333" stroke-width="0.7"/>
<line x1="295.40" y1="253.50" x2="295.40" y2="254.70" stroke="#333" stroke-width="0.7"/>
<line x1="297.13" y1="253.50" x2="297.13" y2="254.70" stroke="#333" stroke-width="0.7"/>
<line x1="298.66" y1="253.50" x2="298.66" y2="254.70" stroke="#333" stroke-width="0.7"/>
<line x1="300.02" y1="253.50" x2="300.02" y2="255.30" stroke="#333" stroke-width="0.9"/>
<text x="300.02" y="263.10" font-size="6.4" font-weight="bold" text-anchor="middle" fill="#000" stroke="#000" stroke-width="0.22" >10,000</text>
<text x="246.26" y="271.30" font-size="6.6" text-anchor="middle" fill="#111" stroke="#111" stroke-width="0.12" >LXH254 (nmol/L)</text>
<text transform="translate(163.80,205.50) rotate(-90)" font-size="6.8" text-anchor="middle" fill="#111" stroke="#111" stroke-width="0.12">% control growth</text>
<text x="205.00" y="150.90" font-size="7.4" font-weight="bold" fill="#111" stroke="#111" stroke-width="0.2">MEL-JUSO (NRAS<tspan font-size="4.7" dy="-1.9" letter-spacing="0.3">Q61L</tspan><tspan dy="1.9">)</tspan></text>
<line x1="344.40" y1="213.28" x2="462.99" y2="213.28" stroke="#111" stroke-width="0.8" stroke-dasharray="0.9 1.6"/>
<polyline points="349.83,179.27 351.08,179.37 352.34,179.47 353.60,179.59 354.86,179.72 356.11,179.86 357.37,180.01 358.63,180.17 359.89,180.35 361.14,180.54 362.40,180.75 363.66,180.98 364.91,181.23 366.17,181.49 367.43,181.78 368.69,182.10 369.94,182.44 371.20,182.80 372.46,183.19 373.72,183.62 374.97,184.08 376.23,184.57 377.49,185.09 378.75,185.66 380.00,186.26 381.26,186.91 382.52,187.60 383.78,188.33 385.03,189.11 386.29,189.94 387.55,190.81 388.80,191.73 390.06,192.70 391.32,193.72 392.58,194.78 393.83,195.89 395.09,197.04 396.35,198.24 397.61,199.48 398.86,200.75 400.12,202.06 401.38,203.40 402.64,204.76 403.89,206.14 405.15,207.54 406.41,208.94 407.67,210.35 408.92,211.76 410.18,213.17 411.44,214.56 412.70,215.93 413.95,217.29 415.21,218.61 416.47,219.91 417.72,221.16 418.98,222.39 420.24,223.57 421.50,224.70 422.75,225.79 424.01,226.84 425.27,227.84 426.53,228.79 427.78,229.69 429.04,230.54 430.30,231.35 431.56,232.11 432.81,232.82 434.07,233.49 435.33,234.12 436.59,234.71 437.84,235.26 439.10,235.77 440.36,236.25 441.61,236.69 442.87,237.10 444.13,237.49 445.39,237.84 446.64,238.17 447.90,238.47 449.16,238.75 450.42,239.01 451.67,239.25 452.93,239.47 454.19,239.67 455.45,239.86 456.70,240.03 457.96,240.19 459.22,240.34 460.48,240.47 461.73,240.59 462.99,240.71" fill="none" stroke="#f07a30" stroke-width="1.2"/>
<polyline points="349.83,178.14 351.08,178.20 352.34,178.26 353.60,178.32 354.86,178.40 356.11,178.48 357.37,178.57 358.63,178.67 359.89,178.78 361.14,178.90 362.40,179.03 363.66,179.18 364.91,179.34 366.17,179.52 367.43,179.72 368.69,179.93 369.94,180.17 371.20,180.43 372.46,180.72 373.72,181.03 374.97,181.38 376.23,181.76 377.49,182.17 378.75,182.62 380.00,183.11 381.26,183.65 382.52,184.23 383.78,184.87 385.03,185.55 386.29,186.30 387.55,187.10 388.80,187.96 390.06,188.88 391.32,189.88 392.58,190.93 393.83,192.06 395.09,193.25 396.35,194.51 397.61,195.84 398.86,197.23 400.12,198.68 401.38,200.19 402.64,201.75 403.89,203.36 405.15,205.01 406.41,206.69 407.67,208.40 408.92,210.13 410.18,211.86 411.44,213.59 412.70,215.30 413.95,217.00 415.21,218.68 416.47,220.31 417.72,221.91 418.98,223.46 420.24,224.95 421.50,226.38 422.75,227.75 424.01,229.06 425.27,230.30 426.53,231.47 427.78,232.57 429.04,233.61 430.30,234.58 431.56,235.48 432.81,236.33 434.07,237.11 435.33,237.83 436.59,238.50 437.84,239.12 439.10,239.69 440.36,240.21 441.61,240.69 442.87,241.13 444.13,241.53 445.39,241.90 446.64,242.23 447.90,242.54 449.16,242.82 450.42,243.07 451.67,243.30 452.93,243.51 454.19,243.70 455.45,243.87 456.70,244.03 457.96,244.17 459.22,244.30 460.48,244.42 461.73,244.53 462.99,244.62" fill="none" stroke="#6a1a8c" stroke-width="1.2"/>
<polyline points="349.83,179.59 351.08,179.60 352.34,179.62 353.60,179.63 354.86,179.65 356.11,179.67 357.37,179.70 358.63,179.73 359.89,179.76 361.14,179.79 362.40,179.83 363.66,179.88 364.91,179.93 366.17,179.99 367.43,180.06 368.69,180.14 369.94,180.23 371.20,180.33 372.46,180.45 373.72,180.58 374.97,180.73 376.23,180.90 377.49,181.09 378.75,181.30 380.00,181.55 381.26,181.83 382.52,182.15 383.78,182.50 385.03,182.90 386.29,183.35 387.55,183.86 388.80,184.43 390.06,185.07 391.32,185.78 392.58,186.57 393.83,187.45 395.09,188.41 396.35,189.48 397.61,190.65 398.86,191.93 400.12,193.31 401.38,194.81 402.64,196.41 403.89,198.12 405.15,199.93 406.41,201.84 407.67,203.82 408.92,205.88 410.18,207.99 411.44,210.13 412.70,212.30 413.95,214.47 415.21,216.62 416.47,218.73 417.72,220.79 418.98,222.78 420.24,224.70 421.50,226.51 422.75,228.23 424.01,229.85 425.27,231.35 426.53,232.74 427.78,234.03 429.04,235.21 430.30,236.28 431.56,237.26 432.81,238.14 434.07,238.94 435.33,239.66 436.59,240.30 437.84,240.87 439.10,241.39 440.36,241.84 441.61,242.25 442.87,242.61 444.13,242.93 445.39,243.21 446.64,243.46 447.90,243.68 449.16,243.87 450.42,244.04 451.67,244.19 452.93,244.33 454.19,244.44 455.45,244.54 456.70,244.63 457.96,244.71 459.22,244.78 460.48,244.84 461.73,244.90 462.99,244.94" fill="none" stroke="#3a8a4a" stroke-width="1.2"/>
<polyline points="349.83,168.53 351.08,168.54 352.34,168.54 353.60,168.55 354.86,168.56 356.11,168.57 357.37,168.58 358.63,168.59 359.89,168.61 361.14,168.62 362.40,168.64 363.66,168.66 364.91,168.69 366.17,168.72 367.43,168.75 368.69,168.79 369.94,168.83 371.20,168.88 372.46,168.94 373.72,169.00 374.97,169.08 376.23,169.16 377.49,169.26 378.75,169.38 380.00,169.51 381.26,169.65 382.52,169.82 383.78,170.02 385.03,170.24 386.29,170.49 387.55,170.78 388.80,171.11 390.06,171.48 391.32,171.90 392.58,172.38 393.83,172.92 395.09,173.53 396.35,174.22 397.61,174.99 398.86,175.86 400.12,176.82 401.38,177.88 402.64,179.06 403.89,180.36 405.15,181.77 406.41,183.31 407.67,184.97 408.92,186.75 410.18,188.65 411.44,190.65 412.70,192.74 413.95,194.92 415.21,197.15 416.47,199.43 417.72,201.72 418.98,204.02 420.24,206.29 421.50,208.51 422.75,210.67 424.01,212.75 425.27,214.73 426.53,216.61 427.78,218.36 429.04,220.00 430.30,221.52 431.56,222.91 432.81,224.19 434.07,225.34 435.33,226.39 436.59,227.33 437.84,228.18 439.10,228.93 440.36,229.61 441.61,230.20 442.87,230.73 444.13,231.20 445.39,231.62 446.64,231.98 447.90,232.30 449.16,232.58 450.42,232.83 451.67,233.04 452.93,233.23 454.19,233.40 455.45,233.54 456.70,233.67 457.96,233.78 459.22,233.88 460.48,233.96 461.73,234.03 462.99,234.10" fill="none" stroke="#000" stroke-width="1.2"/>
<polyline points="349.83,177.10 351.08,177.10 352.34,177.10 353.60,177.10 354.86,177.11 356.11,177.11 357.37,177.11 358.63,177.11 359.89,177.11 361.14,177.11 362.40,177.11 363.66,177.11 364.91,177.11 366.17,177.11 367.43,177.12 368.69,177.12 369.94,177.12 371.20,177.13 372.46,177.13 373.72,177.14 374.97,177.14 376.23,177.15 377.49,177.16 378.75,177.17 380.00,177.18 381.26,177.19 382.52,177.21 383.78,177.23 385.03,177.26 386.29,177.29 387.55,177.32 388.80,177.36 390.06,177.41 391.32,177.47 392.58,177.54 393.83,177.62 395.09,177.71 396.35,177.83 397.61,177.96 398.86,178.12 400.12,178.31 401.38,178.53 402.64,178.79 403.89,179.10 405.15,179.46 406.41,179.88 407.67,180.38 408.92,180.96 410.18,181.63 411.44,182.41 412.70,183.30 413.95,184.33 415.21,185.51 416.47,186.84 417.72,188.33 418.98,190.00 420.24,191.84 421.50,193.85 422.75,196.02 424.01,198.33 425.27,200.77 426.53,203.30 427.78,205.89 429.04,208.50 430.30,211.09 431.56,213.63 432.81,216.08 434.07,218.41 435.33,220.59 436.59,222.62 437.84,224.48 439.10,226.16 440.36,227.68 441.61,229.02 442.87,230.22 444.13,231.26 445.39,232.17 446.64,232.96 447.90,233.65 449.16,234.23 450.42,234.74 451.67,235.17 452.93,235.54 454.19,235.85 455.45,236.12 456.70,236.34 457.96,236.53 459.22,236.69 460.48,236.83 461.73,236.95 462.99,237.04" fill="none" stroke="#1a1ab4" stroke-width="1.2"/>
<polygon points="349.83,181.11 347.49,176.82 352.17,176.82" fill="#f07a30"/>
<polygon points="368.69,184.88 366.35,180.59 371.03,180.59" fill="#f07a30"/>
<polygon points="387.55,194.54 385.21,190.25 389.89,190.25" fill="#f07a30"/>
<polygon points="406.41,210.16 404.07,205.87 408.75,205.87" fill="#f07a30"/>
<polygon points="425.27,230.75 422.93,226.46 427.61,226.46" fill="#f07a30"/>
<polygon points="444.13,241.54 441.79,237.25 446.47,237.25" fill="#f07a30"/>
<polygon points="462.99,241.92 460.65,237.63 465.33,237.63" fill="#f07a30"/>
<rect x="347.97" y="176.73" width="3.70" height="3.70" fill="#6a1a8c"/>
<rect x="366.83" y="178.23" width="3.70" height="3.70" fill="#6a1a8c"/>
<rect x="385.70" y="183.97" width="3.70" height="3.70" fill="#6a1a8c"/>
<rect x="404.56" y="206.22" width="3.70" height="3.70" fill="#6a1a8c"/>
<rect x="423.42" y="227.04" width="3.70" height="3.70" fill="#6a1a8c"/>
<rect x="442.28" y="240.85" width="3.70" height="3.70" fill="#6a1a8c"/>
<rect x="461.14" y="242.36" width="3.70" height="3.70" fill="#6a1a8c"/>
<polygon points="349.83,175.44 347.49,179.73 352.17,179.73" fill="#2f9a3a"/>
<polygon points="368.69,178.76 366.35,183.05 371.03,183.05" fill="#2f9a3a"/>
<polygon points="387.55,182.08 385.21,186.37 389.89,186.37" fill="#2f9a3a"/>
<polygon points="406.41,198.90 404.07,203.19 408.75,203.19" fill="#2f9a3a"/>
<polygon points="425.27,228.85 422.93,233.14 427.61,233.14" fill="#2f9a3a"/>
<polygon points="444.13,241.45 441.79,245.74 446.47,245.74" fill="#2f9a3a"/>
<polygon points="462.99,241.45 460.65,245.74 465.33,245.74" fill="#2f9a3a"/>
<path d="M349.83,167.04V171.56M348.73,167.04h2.2M348.73,171.56h2.2" stroke="#000" stroke-width="0.7" fill="none"/>
<circle cx="349.83" cy="169.30" r="1.46" fill="#000"/>
<path d="M368.69,166.51V169.52M367.59,166.51h2.2M367.59,169.52h2.2" stroke="#000" stroke-width="0.7" fill="none"/>
<circle cx="368.69" cy="168.02" r="1.46" fill="#000"/>
<path d="M387.55,168.24V172.77M386.45,168.24h2.2M386.45,172.77h2.2" stroke="#000" stroke-width="0.7" fill="none"/>
<circle cx="387.55" cy="170.51" r="1.46" fill="#000"/>
<path d="M406.41,181.60V186.12M405.31,181.60h2.2M405.31,186.12h2.2" stroke="#000" stroke-width="0.7" fill="none"/>
<circle cx="406.41" cy="183.86" r="1.46" fill="#000"/>
<path d="M425.27,211.77V216.30M424.17,211.77h2.2M424.17,216.30h2.2" stroke="#000" stroke-width="0.7" fill="none"/>
<circle cx="425.27" cy="214.03" r="1.46" fill="#000"/>
<path d="M444.13,231.39V234.40M443.03,231.39h2.2M443.03,234.40h2.2" stroke="#000" stroke-width="0.7" fill="none"/>
<circle cx="444.13" cy="232.89" r="1.46" fill="#000"/>
<path d="M462.99,231.39V234.40M461.89,231.39h2.2M461.89,234.40h2.2" stroke="#000" stroke-width="0.7" fill="none"/>
<circle cx="462.99" cy="232.89" r="1.46" fill="#000"/>
<path d="M349.83,171.79V182.35M348.73,171.79h2.2M348.73,182.35h2.2" stroke="#1a1ab4" stroke-width="0.7" fill="none"/>
<circle cx="349.83" cy="177.07" r="1.95" fill="#1a1ab4"/>
<path d="M368.69,173.30V176.31M367.59,173.30h2.2M367.59,176.31h2.2" stroke="#1a1ab4" stroke-width="0.7" fill="none"/>
<circle cx="368.69" cy="174.81" r="1.95" fill="#1a1ab4"/>
<path d="M387.55,175.26V179.78M386.45,175.26h2.2M386.45,179.78h2.2" stroke="#1a1ab4" stroke-width="0.7" fill="none"/>
<circle cx="387.55" cy="177.52" r="1.95" fill="#1a1ab4"/>
<path d="M406.41,179.63V185.67M405.31,179.63h2.2M405.31,185.67h2.2" stroke="#1a1ab4" stroke-width="0.7" fill="none"/>
<circle cx="406.41" cy="182.65" r="1.95" fill="#1a1ab4"/>
<path d="M425.27,197.44V201.96M424.17,197.44h2.2M424.17,201.96h2.2" stroke="#1a1ab4" stroke-width="0.7" fill="none"/>
<circle cx="425.27" cy="199.70" r="1.95" fill="#1a1ab4"/>
<path d="M444.13,231.23V234.25M443.03,231.23h2.2M443.03,234.25h2.2" stroke="#1a1ab4" stroke-width="0.7" fill="none"/>
<circle cx="444.13" cy="232.74" r="1.95" fill="#1a1ab4"/>
<path d="M462.99,234.48V237.50M461.89,234.48h2.2M461.89,237.50h2.2" stroke="#1a1ab4" stroke-width="0.7" fill="none"/>
<circle cx="462.99" cy="235.99" r="1.95" fill="#1a1ab4"/>
<path d="M344.40,156.70V251.00H462.99" stroke="#333" stroke-width="1.15" fill="none"/>
<line x1="342.20" y1="251.00" x2="344.40" y2="251.00" stroke="#333" stroke-width="0.9"/>
<text x="341.80" y="253.10" font-size="6.0" font-weight="bold" text-anchor="end" fill="#000" stroke="#000" stroke-width="0.22" >0</text>
<line x1="342.20" y1="232.14" x2="344.40" y2="232.14" stroke="#333" stroke-width="0.9"/>
<text x="341.80" y="234.24" font-size="6.0" font-weight="bold" text-anchor="end" fill="#000" stroke="#000" stroke-width="0.22" >25</text>
<line x1="342.20" y1="213.28" x2="344.40" y2="213.28" stroke="#333" stroke-width="0.9"/>
<text x="341.80" y="215.38" font-size="6.0" font-weight="bold" text-anchor="end" fill="#000" stroke="#000" stroke-width="0.22" >50</text>
<line x1="342.20" y1="194.42" x2="344.40" y2="194.42" stroke="#333" stroke-width="0.9"/>
<text x="341.80" y="196.52" font-size="6.0" font-weight="bold" text-anchor="end" fill="#000" stroke="#000" stroke-width="0.22" >75</text>
<line x1="342.20" y1="175.56" x2="344.40" y2="175.56" stroke="#333" stroke-width="0.9"/>
<text x="341.80" y="177.66" font-size="6.0" font-weight="bold" text-anchor="end" fill="#000" stroke="#000" stroke-width="0.22" >100</text>
<line x1="342.20" y1="156.70" x2="344.40" y2="156.70" stroke="#333" stroke-width="0.9"/>
<text x="341.80" y="158.80" font-size="6.0" font-weight="bold" text-anchor="end" fill="#000" stroke="#000" stroke-width="0.22" >125</text>
<line x1="344.40" y1="251.00" x2="344.40" y2="252.80" stroke="#333" stroke-width="0.9"/>
<text x="344.40" y="260.40" font-size="6.4" font-weight="bold" text-anchor="middle" fill="#000" stroke="#000" stroke-width="0.22" >10</text>
<line x1="356.30" y1="251.00" x2="356.30" y2="252.20" stroke="#333" stroke-width="0.7"/>
<line x1="363.26" y1="251.00" x2="363.26" y2="252.20" stroke="#333" stroke-width="0.7"/>
<line x1="368.20" y1="251.00" x2="368.20" y2="252.20" stroke="#333" stroke-width="0.7"/>
<line x1="372.03" y1="251.00" x2="372.03" y2="252.20" stroke="#333" stroke-width="0.7"/>
<line x1="375.16" y1="251.00" x2="375.16" y2="252.20" stroke="#333" stroke-width="0.7"/>
<line x1="377.81" y1="251.00" x2="377.81" y2="252.20" stroke="#333" stroke-width="0.7"/>
<line x1="380.10" y1="251.00" x2="380.10" y2="252.20" stroke="#333" stroke-width="0.7"/>
<line x1="382.12" y1="251.00" x2="382.12" y2="252.20" stroke="#333" stroke-width="0.7"/>
<line x1="383.93" y1="251.00" x2="383.93" y2="252.80" stroke="#333" stroke-width="0.9"/>
<text x="383.93" y="260.40" font-size="6.4" font-weight="bold" text-anchor="middle" fill="#000" stroke="#000" stroke-width="0.22" >100</text>
<line x1="395.83" y1="251.00" x2="395.83" y2="252.20" stroke="#333" stroke-width="0.7"/>
<line x1="402.79" y1="251.00" x2="402.79" y2="252.20" stroke="#333" stroke-width="0.7"/>
<line x1="407.73" y1="251.00" x2="407.73" y2="252.20" stroke="#333" stroke-width="0.7"/>
<line x1="411.56" y1="251.00" x2="411.56" y2="252.20" stroke="#333" stroke-width="0.7"/>
<line x1="414.69" y1="251.00" x2="414.69" y2="252.20" stroke="#333" stroke-width="0.7"/>
<line x1="417.34" y1="251.00" x2="417.34" y2="252.20" stroke="#333" stroke-width="0.7"/>
<line x1="419.63" y1="251.00" x2="419.63" y2="252.20" stroke="#333" stroke-width="0.7"/>
<line x1="421.65" y1="251.00" x2="421.65" y2="252.20" stroke="#333" stroke-width="0.7"/>
<line x1="423.46" y1="251.00" x2="423.46" y2="252.80" stroke="#333" stroke-width="0.9"/>
<text x="423.46" y="260.40" font-size="6.4" font-weight="bold" text-anchor="middle" fill="#000" stroke="#000" stroke-width="0.22" >1,000</text>
<line x1="435.36" y1="251.00" x2="435.36" y2="252.20" stroke="#333" stroke-width="0.7"/>
<line x1="442.32" y1="251.00" x2="442.32" y2="252.20" stroke="#333" stroke-width="0.7"/>
<line x1="447.26" y1="251.00" x2="447.26" y2="252.20" stroke="#333" stroke-width="0.7"/>
<line x1="451.09" y1="251.00" x2="451.09" y2="252.20" stroke="#333" stroke-width="0.7"/>
<line x1="454.22" y1="251.00" x2="454.22" y2="252.20" stroke="#333" stroke-width="0.7"/>
<line x1="456.87" y1="251.00" x2="456.87" y2="252.20" stroke="#333" stroke-width="0.7"/>
<line x1="459.16" y1="251.00" x2="459.16" y2="252.20" stroke="#333" stroke-width="0.7"/>
<line x1="461.18" y1="251.00" x2="461.18" y2="252.20" stroke="#333" stroke-width="0.7"/>
<line x1="462.99" y1="251.00" x2="462.99" y2="252.80" stroke="#333" stroke-width="0.9"/>
<text x="462.99" y="260.40" font-size="6.4" font-weight="bold" text-anchor="middle" fill="#000" stroke="#000" stroke-width="0.22" >10,000</text>
<text x="408.80" y="267.90" font-size="6.4" text-anchor="middle" fill="#111" stroke="#111" stroke-width="0.12" >LXH254 (nmol/L)</text>
<text transform="translate(326.90,203.85) rotate(-90)" font-size="6.8" text-anchor="middle" fill="#111" stroke="#111" stroke-width="0.12">% control growth</text>
<text x="363.60" y="149.90" font-size="7.4" font-weight="bold" fill="#111" stroke="#111" stroke-width="0.2">MIA PaCa-2 (KRAS<tspan font-size="4.7" dy="-1.9" letter-spacing="0.3">G12C</tspan><tspan dy="1.9">)</tspan></text>
<line x1="148.40" y1="16.30" x2="155.70" y2="16.30" stroke="#1a1ab4" stroke-width="1.4"/>
<circle cx="152.05" cy="16.30" r="1.50" fill="#1a1ab4"/>
<text x="160.20" y="18.60" font-size="6.0" text-anchor="start" fill="#000" stroke="#000" stroke-width="0.12" letter-spacing="-0.2">Parental</text>
<line x1="148.40" y1="26.00" x2="155.70" y2="26.00" stroke="#2f9a3a" stroke-width="1.4"/>
<polygon points="152.05,24.05 150.25,27.35 153.85,27.35" fill="#2f9a3a"/>
<text x="160.20" y="28.10" font-size="6.0" text-anchor="start" fill="#000" stroke="#000" stroke-width="0.12" letter-spacing="-0.2">ARAF knockout</text>
<line x1="148.40" y1="38.60" x2="155.70" y2="38.60" stroke="#000" stroke-width="1.4"/>
<circle cx="152.05" cy="38.60" r="1.12" fill="#000"/>
<text x="160.20" y="37.20" font-size="6.0" text-anchor="start" fill="#000" stroke="#000" stroke-width="0.12" letter-spacing="-0.2">ARAF knockout +</text>
<text x="160.20" y="43.80" font-size="6.0" text-anchor="start" fill="#000" stroke="#000" stroke-width="0.12" letter-spacing="-0.2">ARAF-WT-FLAG</text>
<line x1="148.40" y1="54.30" x2="155.70" y2="54.30" stroke="#6a1a8c" stroke-width="1.4"/>
<polygon points="152.05,52.35 150.40,54.30 152.05,56.25 153.70,54.30" fill="#6a1a8c"/>
<text x="160.20" y="53.20" font-size="6.0" text-anchor="start" fill="#000" stroke="#000" stroke-width="0.12" letter-spacing="-0.2">ARAF Knockout +</text>
<text x="160.20" y="59.60" font-size="6.0" text-anchor="start" fill="#000" stroke="#000" stroke-width="0.12" letter-spacing="-0.2">ARAF-K366M-FLAG</text>
<line x1="384.50" y1="16.70" x2="395.00" y2="16.70" stroke="#2a2ad8" stroke-width="1.2"/>
<circle cx="389.75" cy="16.70" r="1.70" fill="#2a2ad8"/>
<text x="399.00" y="18.80" font-size="5.6" text-anchor="start" fill="#333" letter-spacing="-0.1">Parental</text>
<line x1="384.50" y1="29.00" x2="395.00" y2="29.00" stroke="#000" stroke-width="1.2" stroke-dasharray="2 1.3"/>
<polygon points="389.75,26.66 387.77,29.00 389.75,31.34 391.73,29.00" fill="#000"/>
<text x="399.00" y="27.60" font-size="5.6" text-anchor="start" fill="#333" letter-spacing="-0.1">ARAF knockout +</text>
<text x="399.00" y="33.80" font-size="5.6" text-anchor="start" fill="#333" letter-spacing="-0.1">ARAF-WT-FLAG (- dox)</text>
<line x1="384.50" y1="46.00" x2="395.00" y2="46.00" stroke="#000" stroke-width="1.2"/>
<circle cx="389.75" cy="46.00" r="1.12" fill="#000"/>
<text x="399.00" y="45.00" font-size="5.6" text-anchor="start" fill="#333" letter-spacing="-0.1">ARAF knockout +</text>
<text x="399.00" y="51.80" font-size="5.6" text-anchor="start" fill="#333" letter-spacing="-0.1">ARAF-WT-FLAG (+ dox)</text>
<line x1="384.50" y1="60.00" x2="395.00" y2="60.00" stroke="#6a1a8c" stroke-width="1.2" stroke-dasharray="2 1.3"/>
<rect x="388.32" y="58.58" width="2.85" height="2.85" fill="#6a1a8c"/>
<text x="399.00" y="58.50" font-size="5.6" text-anchor="start" fill="#333" letter-spacing="-0.1">ARAF knockout +</text>
<text x="399.00" y="65.30" font-size="5.6" text-anchor="start" fill="#333" letter-spacing="-0.1">ARAF-K366M-FLAG (- dox)</text>
<line x1="384.50" y1="78.00" x2="395.00" y2="78.00" stroke="#6a1a8c" stroke-width="1.2"/>
<circle cx="389.75" cy="78.00" r="1.50" fill="#6a1a8c"/>
<text x="399.00" y="76.00" font-size="5.6" text-anchor="start" fill="#333" letter-spacing="-0.1">ARAF knockout +</text>
<text x="399.00" y="82.80" font-size="5.6" text-anchor="start" fill="#333" letter-spacing="-0.1">ARAF-K366M_FLAG (+ dox)</text>
<line x1="459.60" y1="151.10" x2="466.70" y2="151.10" stroke="#1a1ab4" stroke-width="1.2"/>
<circle cx="463.15" cy="151.10" r="1.50" fill="#1a1ab4"/>
<text x="470.50" y="153.20" font-size="5.8" text-anchor="start" fill="#2a2a2a" stroke="#2a2a2a" stroke-width="0.05" letter-spacing="-0.1">Parental</text>
<line x1="459.60" y1="160.50" x2="466.70" y2="160.50" stroke="#2f9a3a" stroke-width="1.2"/>
<polygon points="463.15,158.55 461.35,161.85 464.95,161.85" fill="#2f9a3a"/>
<text x="470.50" y="162.60" font-size="5.8" text-anchor="start" fill="#2a2a2a" stroke="#2a2a2a" stroke-width="0.05" letter-spacing="-0.1">ARAF knockout</text>
<line x1="459.60" y1="172.30" x2="466.70" y2="172.30" stroke="#000" stroke-width="1.2"/>
<circle cx="463.15" cy="172.30" r="1.12" fill="#000"/>
<text x="470.50" y="171.10" font-size="5.8" text-anchor="start" fill="#2a2a2a" stroke="#2a2a2a" stroke-width="0.05" letter-spacing="-0.1">ARAF knockout +</text>
<text x="470.50" y="177.30" font-size="5.8" text-anchor="start" fill="#2a2a2a" stroke="#2a2a2a" stroke-width="0.05" letter-spacing="-0.1">ARAF-WT-FLAG</text>
<line x1="459.60" y1="186.40" x2="466.70" y2="186.40" stroke="#6a1a8c" stroke-width="1.2"/>
<circle cx="463.15" cy="186.40" r="1.50" fill="#6a1a8c"/>
<text x="470.50" y="184.90" font-size="5.8" text-anchor="start" fill="#2a2a2a" stroke="#2a2a2a" stroke-width="0.05" letter-spacing="-0.1">ARAF knockout +</text>
<text x="470.50" y="190.70" font-size="5.8" text-anchor="start" fill="#2a2a2a" stroke="#2a2a2a" stroke-width="0.05" letter-spacing="-0.1">ARAF-D447A-FLAG</text>
<line x1="459.60" y1="200.60" x2="466.70" y2="200.60" stroke="#f07a30" stroke-width="1.2"/>
<polygon points="463.15,202.55 461.35,199.25 464.95,199.25" fill="#f07a30"/>
<text x="470.50" y="200.50" font-size="5.8" text-anchor="start" fill="#2a2a2a" stroke="#2a2a2a" stroke-width="0.05" letter-spacing="-0.1">ARAF knockout +</text>
<text x="470.50" y="206.70" font-size="5.8" text-anchor="start" fill="#2a2a2a" stroke="#2a2a2a" stroke-width="0.05" letter-spacing="-0.1">ARAF-R362H-FLAG</text>
<text x="236.20" y="289.60" font-size="6.3" font-weight="bold" text-anchor="middle" fill="#111" stroke="#111" stroke-width="0.22" >Proliferation IC<tspan font-size="4" dy="1.2">50</tspan><tspan dy="-1.2"> (nmol/L)</tspan></text>
<line x1="102.3" y1="292.1" x2="357.5" y2="292.1" stroke="#222" stroke-width="1.1"/>
<text x="65.00" y="299.60" font-size="6.3" font-weight="bold" text-anchor="middle" fill="#111" stroke="#111" stroke-width="0.22" >Cell line variant</text>
<text x="125.60" y="299.60" font-size="6.3" font-weight="bold" text-anchor="middle" fill="#111" stroke="#111" stroke-width="0.22" >MEL-JUSO</text>
<text x="170.40" y="299.60" font-size="6.3" font-weight="bold" text-anchor="middle" fill="#111" stroke="#111" stroke-width="0.22" >HCT 116</text>
<text x="212.30" y="299.60" font-size="6.3" font-weight="bold" text-anchor="middle" fill="#111" stroke="#111" stroke-width="0.22" >MIA PaCa-2</text>
<text x="271.50" y="299.60" font-size="6.3" font-weight="bold" text-anchor="middle" fill="#111" stroke="#111" stroke-width="0.22" >MIA PaCa-2 (inducible)</text>
<text x="331.20" y="299.60" font-size="6.3" font-weight="bold" text-anchor="middle" fill="#111" stroke="#111" stroke-width="0.22" >COR-L23</text>
<line x1="29.30" y1="301.50" x2="356.90" y2="301.50" stroke="#666" stroke-width="1.0"/>
<line x1="29.30" y1="309.90" x2="356.90" y2="309.90" stroke="#666" stroke-width="1.0"/>
<line x1="29.30" y1="318.40" x2="356.90" y2="318.40" stroke="#666" stroke-width="1.0"/>
<line x1="29.30" y1="328.60" x2="356.90" y2="328.60" stroke="#666" stroke-width="1.0"/>
<line x1="29.30" y1="338.50" x2="356.90" y2="338.50" stroke="#666" stroke-width="1.0"/>
<line x1="29.30" y1="348.50" x2="356.90" y2="348.50" stroke="#666" stroke-width="1.0"/>
<line x1="29.30" y1="358.30" x2="356.90" y2="358.30" stroke="#666" stroke-width="1.0"/>
<line x1="29.30" y1="301.50" x2="29.30" y2="358.30" stroke="#666" stroke-width="1.0"/>
<line x1="101.90" y1="301.50" x2="101.90" y2="358.30" stroke="#666" stroke-width="1.0"/>
<line x1="149.60" y1="301.50" x2="149.60" y2="358.30" stroke="#666" stroke-width="1.0"/>
<line x1="188.70" y1="301.50" x2="188.70" y2="358.30" stroke="#666" stroke-width="1.0"/>
<line x1="235.80" y1="301.50" x2="235.80" y2="358.30" stroke="#666" stroke-width="1.0"/>
<line x1="307.10" y1="301.50" x2="307.10" y2="358.30" stroke="#666" stroke-width="1.0"/>
<line x1="356.90" y1="301.50" x2="356.90" y2="358.30" stroke="#666" stroke-width="1.0"/>
<text x="31.00" y="308.30" font-size="6.4" font-weight="bold" text-anchor="start" fill="#000" stroke="#000" stroke-width="0.22" letter-spacing="-0.15">Wild-type</text>
<text x="127.15" y="308.30" font-size="6.1" text-anchor="middle" fill="#222" stroke="#222" stroke-width="0.12" >1,015</text>
<text x="170.55" y="308.30" font-size="6.1" text-anchor="middle" fill="#222" stroke="#222" stroke-width="0.12" >1,796</text>
<text x="213.65" y="308.30" font-size="6.1" text-anchor="middle" fill="#222" stroke="#222" stroke-width="0.12" >1,560</text>
<text x="272.85" y="308.30" font-size="6.1" text-anchor="middle" fill="#222" stroke="#222" stroke-width="0.12" >1,278</text>
<text x="333.40" y="308.30" font-size="6.1" text-anchor="middle" fill="#222" stroke="#222" stroke-width="0.12" >4,274</text>
<text x="31.00" y="316.75" font-size="6.4" font-weight="bold" text-anchor="start" fill="#000" stroke="#000" stroke-width="0.22" letter-spacing="-0.15">ARAF<tspan font-weight="normal">Δ</tspan></text>
<text x="125.95" y="316.75" font-size="6.1" text-anchor="middle" fill="#222" stroke="#222" stroke-width="0.12" >372</text>
<text x="169.35" y="316.75" font-size="6.1" text-anchor="middle" fill="#222" stroke="#222" stroke-width="0.12" >491</text>
<text x="212.45" y="316.75" font-size="6.1" text-anchor="middle" fill="#222" stroke="#222" stroke-width="0.12" >565</text>
<text x="271.65" y="316.75" font-size="6.1" text-anchor="middle" fill="#222" stroke="#222" stroke-width="0.12" >707*</text>
<text x="333.40" y="316.75" font-size="6.1" text-anchor="middle" fill="#222" stroke="#222" stroke-width="0.12" >1,349</text>
<text x="31.00" y="326.10" font-size="6.4" font-weight="bold" text-anchor="start" fill="#000" stroke="#000" stroke-width="0.22" letter-spacing="-0.2">ARAF<tspan font-weight="normal">Δ</tspan> + ARAF<tspan font-size="4.1" dy="-3.3" letter-spacing="0">WT</tspan></text>
<text x="127.15" y="326.10" font-size="6.1" text-anchor="middle" fill="#222" stroke="#222" stroke-width="0.12" >2,420</text>
<text x="170.55" y="326.10" font-size="6.1" text-anchor="middle" fill="#222" stroke="#222" stroke-width="0.12" >1,794</text>
<text x="213.65" y="326.10" font-size="6.1" text-anchor="middle" fill="#222" stroke="#222" stroke-width="0.12" >1,854</text>
<text x="272.85" y="326.10" font-size="6.1" text-anchor="middle" fill="#222" stroke="#222" stroke-width="0.12" >1,427**</text>
<text x="333.40" y="326.10" font-size="6.1" text-anchor="middle" fill="#222" stroke="#222" stroke-width="0.12" >6,668</text>
<text x="31.00" y="336.15" font-size="6.4" font-weight="bold" text-anchor="start" fill="#000" stroke="#000" stroke-width="0.22" letter-spacing="-0.2">ARAF<tspan font-weight="normal">Δ</tspan> + ARAF<tspan font-size="4.1" dy="-3.3" letter-spacing="0">R362H</tspan></text>
<text x="125.95" y="336.15" font-size="6.1" text-anchor="middle" fill="#222" stroke="#222" stroke-width="0.12" >442</text>
<text x="169.35" y="336.15" font-size="6.1" text-anchor="middle" fill="#222" stroke="#222" stroke-width="0.12" >201</text>
<text x="212.45" y="336.15" font-size="6.1" text-anchor="middle" fill="#222" stroke="#222" stroke-width="0.12" >560</text>
<text x="271.65" y="336.15" font-size="6.1" text-anchor="middle" fill="#222" stroke="#222" stroke-width="0.12" >N/A</text>
<text x="332.20" y="336.15" font-size="6.1" text-anchor="middle" fill="#222" stroke="#222" stroke-width="0.12" >N/A</text>
<text x="31.00" y="346.10" font-size="6.4" font-weight="bold" text-anchor="start" fill="#000" stroke="#000" stroke-width="0.22" letter-spacing="-0.2">ARAF<tspan font-weight="normal">Δ</tspan> + ARAF<tspan font-size="4.1" dy="-3.3" letter-spacing="0">D447A</tspan></text>
<text x="125.95" y="346.10" font-size="6.1" text-anchor="middle" fill="#222" stroke="#222" stroke-width="0.12" >453</text>
<text x="169.35" y="346.10" font-size="6.1" text-anchor="middle" fill="#222" stroke="#222" stroke-width="0.12" >269</text>
<text x="212.45" y="346.10" font-size="6.1" text-anchor="middle" fill="#222" stroke="#222" stroke-width="0.12" >605</text>
<text x="271.65" y="346.10" font-size="6.1" text-anchor="middle" fill="#222" stroke="#222" stroke-width="0.12" >N/A</text>
<text x="332.20" y="346.10" font-size="6.1" text-anchor="middle" fill="#222" stroke="#222" stroke-width="0.12" >N/A</text>
<text x="31.00" y="356.00" font-size="6.4" font-weight="bold" text-anchor="start" fill="#000" stroke="#000" stroke-width="0.22" letter-spacing="-0.2">ARAF<tspan font-weight="normal">Δ</tspan> + ARAF<tspan font-size="4.1" dy="-3.3" letter-spacing="0">K336M</tspan></text>
<text x="125.95" y="356.00" font-size="6.1" text-anchor="middle" fill="#222" stroke="#222" stroke-width="0.12" >N/A</text>
<text x="169.35" y="356.00" font-size="6.1" text-anchor="middle" fill="#222" stroke="#222" stroke-width="0.12" >N/A</text>
<text x="212.45" y="356.00" font-size="6.1" text-anchor="middle" fill="#222" stroke="#222" stroke-width="0.12" >N/A</text>
<text x="271.65" y="356.00" font-size="6.1" text-anchor="middle" fill="#222" stroke="#222" stroke-width="0.12" >710</text>
<text x="333.40" y="356.00" font-size="6.1" text-anchor="middle" fill="#222" stroke="#222" stroke-width="0.12" >1,675</text>
</svg>
</body></html>
